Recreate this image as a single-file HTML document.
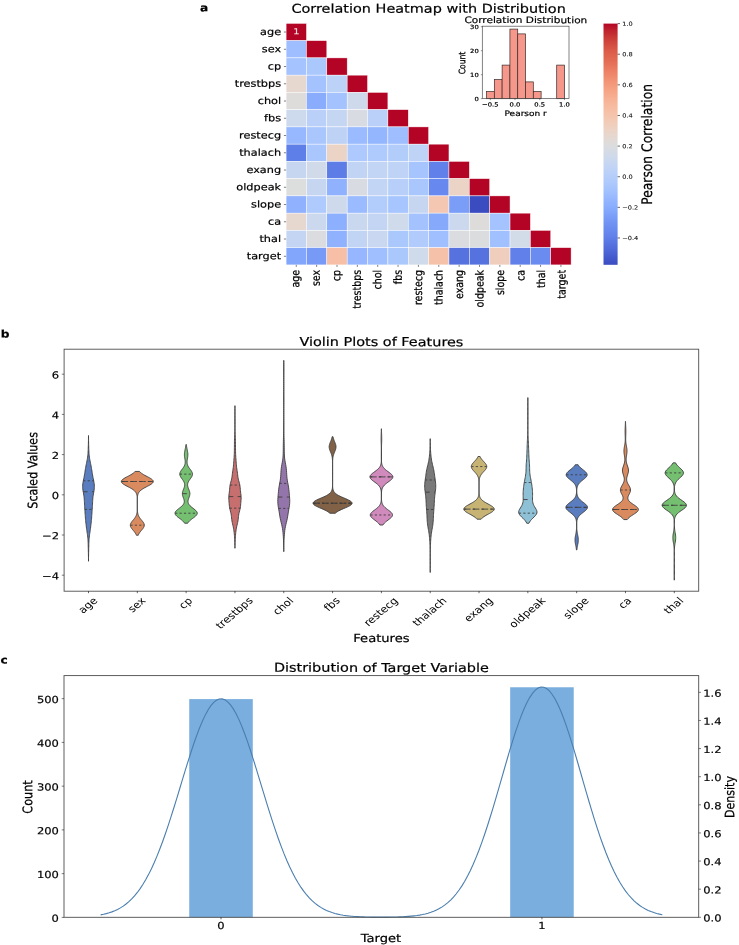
<!DOCTYPE html>
<html><head><meta charset="utf-8"><style>html,body{margin:0;padding:0;background:#fff;}</style></head><body>
<svg width="739" height="945" viewBox="0 0 739 945" style="display:block;font-family:'DejaVu Sans','Liberation Sans',sans-serif">
<rect width="739" height="945" fill="#fff"/>
<text transform="translate(200,11.3) scale(1.18,1) rotate(0.05)" font-size="10.34" text-anchor="start" fill="#000" font-weight="bold" stroke="#000" stroke-width="0.2">a</text>
<text transform="translate(428.6,12.8) scale(1.18,1) rotate(0.05)" font-size="12.24" text-anchor="middle" fill="#000" stroke="#000" stroke-width="0.2">Correlation Heatmap with Distribution</text>
<rect x="286.1" y="23.4" width="20.36" height="17.25" fill="#b40426" stroke="#fff" stroke-width="0.45"/>
<rect x="286.1" y="40.65" width="20.36" height="17.25" fill="#9ebeff" stroke="#fff" stroke-width="0.45"/>
<rect x="306.46" y="40.65" width="20.36" height="17.25" fill="#b40426" stroke="#fff" stroke-width="0.45"/>
<rect x="286.1" y="57.9" width="20.36" height="17.25" fill="#a5c3fe" stroke="#fff" stroke-width="0.45"/>
<rect x="306.46" y="57.9" width="20.36" height="17.25" fill="#abc8fd" stroke="#fff" stroke-width="0.45"/>
<rect x="326.81" y="57.9" width="20.36" height="17.25" fill="#b40426" stroke="#fff" stroke-width="0.45"/>
<rect x="286.1" y="75.15" width="20.36" height="17.25" fill="#e6d7cf" stroke="#fff" stroke-width="0.45"/>
<rect x="306.46" y="75.15" width="20.36" height="17.25" fill="#a3c2fe" stroke="#fff" stroke-width="0.45"/>
<rect x="326.81" y="75.15" width="20.36" height="17.25" fill="#bcd2f7" stroke="#fff" stroke-width="0.45"/>
<rect x="347.17" y="75.15" width="20.36" height="17.25" fill="#b40426" stroke="#fff" stroke-width="0.45"/>
<rect x="286.1" y="92.4" width="20.36" height="17.25" fill="#dedcdb" stroke="#fff" stroke-width="0.45"/>
<rect x="306.46" y="92.4" width="20.36" height="17.25" fill="#89acfd" stroke="#fff" stroke-width="0.45"/>
<rect x="326.81" y="92.4" width="20.36" height="17.25" fill="#a3c2fe" stroke="#fff" stroke-width="0.45"/>
<rect x="347.17" y="92.4" width="20.36" height="17.25" fill="#cedaeb" stroke="#fff" stroke-width="0.45"/>
<rect x="367.53" y="92.4" width="20.36" height="17.25" fill="#b40426" stroke="#fff" stroke-width="0.45"/>
<rect x="286.1" y="109.65" width="20.36" height="17.25" fill="#cdd9ec" stroke="#fff" stroke-width="0.45"/>
<rect x="306.46" y="109.65" width="20.36" height="17.25" fill="#bad0f8" stroke="#fff" stroke-width="0.45"/>
<rect x="326.81" y="109.65" width="20.36" height="17.25" fill="#c5d6f2" stroke="#fff" stroke-width="0.45"/>
<rect x="347.17" y="109.65" width="20.36" height="17.25" fill="#d8dce2" stroke="#fff" stroke-width="0.45"/>
<rect x="367.53" y="109.65" width="20.36" height="17.25" fill="#bad0f8" stroke="#fff" stroke-width="0.45"/>
<rect x="387.89" y="109.65" width="20.36" height="17.25" fill="#b40426" stroke="#fff" stroke-width="0.45"/>
<rect x="286.1" y="126.9" width="20.36" height="17.25" fill="#97b8ff" stroke="#fff" stroke-width="0.45"/>
<rect x="306.46" y="126.9" width="20.36" height="17.25" fill="#a9c6fd" stroke="#fff" stroke-width="0.45"/>
<rect x="326.81" y="126.9" width="20.36" height="17.25" fill="#bed2f6" stroke="#fff" stroke-width="0.45"/>
<rect x="347.17" y="126.9" width="20.36" height="17.25" fill="#9abbff" stroke="#fff" stroke-width="0.45"/>
<rect x="367.53" y="126.9" width="20.36" height="17.25" fill="#94b6ff" stroke="#fff" stroke-width="0.45"/>
<rect x="387.89" y="126.9" width="20.36" height="17.25" fill="#9ebeff" stroke="#fff" stroke-width="0.45"/>
<rect x="408.24" y="126.9" width="20.36" height="17.25" fill="#b40426" stroke="#fff" stroke-width="0.45"/>
<rect x="286.1" y="144.15" width="20.36" height="17.25" fill="#5f7fe8" stroke="#fff" stroke-width="0.45"/>
<rect x="306.46" y="144.15" width="20.36" height="17.25" fill="#aac7fd" stroke="#fff" stroke-width="0.45"/>
<rect x="326.81" y="144.15" width="20.36" height="17.25" fill="#ebd3c6" stroke="#fff" stroke-width="0.45"/>
<rect x="347.17" y="144.15" width="20.36" height="17.25" fill="#adc9fd" stroke="#fff" stroke-width="0.45"/>
<rect x="367.53" y="144.15" width="20.36" height="17.25" fill="#afcafc" stroke="#fff" stroke-width="0.45"/>
<rect x="387.89" y="144.15" width="20.36" height="17.25" fill="#b3cdfb" stroke="#fff" stroke-width="0.45"/>
<rect x="408.24" y="144.15" width="20.36" height="17.25" fill="#bfd3f6" stroke="#fff" stroke-width="0.45"/>
<rect x="428.6" y="144.15" width="20.36" height="17.25" fill="#b40426" stroke="#fff" stroke-width="0.45"/>
<rect x="286.1" y="161.4" width="20.36" height="17.25" fill="#c6d6f1" stroke="#fff" stroke-width="0.45"/>
<rect x="306.46" y="161.4" width="20.36" height="17.25" fill="#d1dae9" stroke="#fff" stroke-width="0.45"/>
<rect x="326.81" y="161.4" width="20.36" height="17.25" fill="#5d7ce6" stroke="#fff" stroke-width="0.45"/>
<rect x="347.17" y="161.4" width="20.36" height="17.25" fill="#c1d4f4" stroke="#fff" stroke-width="0.45"/>
<rect x="367.53" y="161.4" width="20.36" height="17.25" fill="#c3d5f4" stroke="#fff" stroke-width="0.45"/>
<rect x="387.89" y="161.4" width="20.36" height="17.25" fill="#bfd3f6" stroke="#fff" stroke-width="0.45"/>
<rect x="408.24" y="161.4" width="20.36" height="17.25" fill="#a6c4fe" stroke="#fff" stroke-width="0.45"/>
<rect x="428.6" y="161.4" width="20.36" height="17.25" fill="#6180e9" stroke="#fff" stroke-width="0.45"/>
<rect x="448.96" y="161.4" width="20.36" height="17.25" fill="#b40426" stroke="#fff" stroke-width="0.45"/>
<rect x="286.1" y="178.65" width="20.36" height="17.25" fill="#dcdddd" stroke="#fff" stroke-width="0.45"/>
<rect x="306.46" y="178.65" width="20.36" height="17.25" fill="#c6d6f1" stroke="#fff" stroke-width="0.45"/>
<rect x="326.81" y="178.65" width="20.36" height="17.25" fill="#8fb1fe" stroke="#fff" stroke-width="0.45"/>
<rect x="347.17" y="178.65" width="20.36" height="17.25" fill="#d8dce2" stroke="#fff" stroke-width="0.45"/>
<rect x="367.53" y="178.65" width="20.36" height="17.25" fill="#c3d5f4" stroke="#fff" stroke-width="0.45"/>
<rect x="387.89" y="178.65" width="20.36" height="17.25" fill="#b7cff9" stroke="#fff" stroke-width="0.45"/>
<rect x="408.24" y="178.65" width="20.36" height="17.25" fill="#aac7fd" stroke="#fff" stroke-width="0.45"/>
<rect x="428.6" y="178.65" width="20.36" height="17.25" fill="#6788ee" stroke="#fff" stroke-width="0.45"/>
<rect x="448.96" y="178.65" width="20.36" height="17.25" fill="#ebd3c6" stroke="#fff" stroke-width="0.45"/>
<rect x="469.31" y="178.65" width="20.36" height="17.25" fill="#b40426" stroke="#fff" stroke-width="0.45"/>
<rect x="286.1" y="195.9" width="20.36" height="17.25" fill="#8fb1fe" stroke="#fff" stroke-width="0.45"/>
<rect x="306.46" y="195.9" width="20.36" height="17.25" fill="#afcafc" stroke="#fff" stroke-width="0.45"/>
<rect x="326.81" y="195.9" width="20.36" height="17.25" fill="#cedaeb" stroke="#fff" stroke-width="0.45"/>
<rect x="347.17" y="195.9" width="20.36" height="17.25" fill="#9abbff" stroke="#fff" stroke-width="0.45"/>
<rect x="367.53" y="195.9" width="20.36" height="17.25" fill="#b2ccfb" stroke="#fff" stroke-width="0.45"/>
<rect x="387.89" y="195.9" width="20.36" height="17.25" fill="#a7c5fe" stroke="#fff" stroke-width="0.45"/>
<rect x="408.24" y="195.9" width="20.36" height="17.25" fill="#c6d6f1" stroke="#fff" stroke-width="0.45"/>
<rect x="428.6" y="195.9" width="20.36" height="17.25" fill="#f3c7b1" stroke="#fff" stroke-width="0.45"/>
<rect x="448.96" y="195.9" width="20.36" height="17.25" fill="#7a9df8" stroke="#fff" stroke-width="0.45"/>
<rect x="469.31" y="195.9" width="20.36" height="17.25" fill="#3b4cc0" stroke="#fff" stroke-width="0.45"/>
<rect x="489.67" y="195.9" width="20.36" height="17.25" fill="#b40426" stroke="#fff" stroke-width="0.45"/>
<rect x="286.1" y="213.15" width="20.36" height="17.25" fill="#e6d7cf" stroke="#fff" stroke-width="0.45"/>
<rect x="306.46" y="213.15" width="20.36" height="17.25" fill="#cbd8ee" stroke="#fff" stroke-width="0.45"/>
<rect x="326.81" y="213.15" width="20.36" height="17.25" fill="#8db0fe" stroke="#fff" stroke-width="0.45"/>
<rect x="347.17" y="213.15" width="20.36" height="17.25" fill="#cad8ef" stroke="#fff" stroke-width="0.45"/>
<rect x="367.53" y="213.15" width="20.36" height="17.25" fill="#c4d5f3" stroke="#fff" stroke-width="0.45"/>
<rect x="387.89" y="213.15" width="20.36" height="17.25" fill="#cfdaea" stroke="#fff" stroke-width="0.45"/>
<rect x="408.24" y="213.15" width="20.36" height="17.25" fill="#a3c2fe" stroke="#fff" stroke-width="0.45"/>
<rect x="428.6" y="213.15" width="20.36" height="17.25" fill="#86a9fc" stroke="#fff" stroke-width="0.45"/>
<rect x="448.96" y="213.15" width="20.36" height="17.25" fill="#cbd8ee" stroke="#fff" stroke-width="0.45"/>
<rect x="469.31" y="213.15" width="20.36" height="17.25" fill="#dedcdb" stroke="#fff" stroke-width="0.45"/>
<rect x="489.67" y="213.15" width="20.36" height="17.25" fill="#a5c3fe" stroke="#fff" stroke-width="0.45"/>
<rect x="510.03" y="213.15" width="20.36" height="17.25" fill="#b40426" stroke="#fff" stroke-width="0.45"/>
<rect x="286.1" y="230.4" width="20.36" height="17.25" fill="#c4d5f3" stroke="#fff" stroke-width="0.45"/>
<rect x="306.46" y="230.4" width="20.36" height="17.25" fill="#dadce0" stroke="#fff" stroke-width="0.45"/>
<rect x="326.81" y="230.4" width="20.36" height="17.25" fill="#90b2fe" stroke="#fff" stroke-width="0.45"/>
<rect x="347.17" y="230.4" width="20.36" height="17.25" fill="#c1d4f4" stroke="#fff" stroke-width="0.45"/>
<rect x="367.53" y="230.4" width="20.36" height="17.25" fill="#c9d7f0" stroke="#fff" stroke-width="0.45"/>
<rect x="387.89" y="230.4" width="20.36" height="17.25" fill="#abc8fd" stroke="#fff" stroke-width="0.45"/>
<rect x="408.24" y="230.4" width="20.36" height="17.25" fill="#b1cbfc" stroke="#fff" stroke-width="0.45"/>
<rect x="428.6" y="230.4" width="20.36" height="17.25" fill="#9fbfff" stroke="#fff" stroke-width="0.45"/>
<rect x="448.96" y="230.4" width="20.36" height="17.25" fill="#dadce0" stroke="#fff" stroke-width="0.45"/>
<rect x="469.31" y="230.4" width="20.36" height="17.25" fill="#dbdcde" stroke="#fff" stroke-width="0.45"/>
<rect x="489.67" y="230.4" width="20.36" height="17.25" fill="#a1c0ff" stroke="#fff" stroke-width="0.45"/>
<rect x="510.03" y="230.4" width="20.36" height="17.25" fill="#d2dbe8" stroke="#fff" stroke-width="0.45"/>
<rect x="530.39" y="230.4" width="20.36" height="17.25" fill="#b40426" stroke="#fff" stroke-width="0.45"/>
<rect x="286.1" y="247.65" width="20.36" height="17.25" fill="#82a6fb" stroke="#fff" stroke-width="0.45"/>
<rect x="306.46" y="247.65" width="20.36" height="17.25" fill="#779af7" stroke="#fff" stroke-width="0.45"/>
<rect x="326.81" y="247.65" width="20.36" height="17.25" fill="#f6bfa6" stroke="#fff" stroke-width="0.45"/>
<rect x="347.17" y="247.65" width="20.36" height="17.25" fill="#96b7ff" stroke="#fff" stroke-width="0.45"/>
<rect x="367.53" y="247.65" width="20.36" height="17.25" fill="#9fbfff" stroke="#fff" stroke-width="0.45"/>
<rect x="387.89" y="247.65" width="20.36" height="17.25" fill="#abc8fd" stroke="#fff" stroke-width="0.45"/>
<rect x="408.24" y="247.65" width="20.36" height="17.25" fill="#cfdaea" stroke="#fff" stroke-width="0.45"/>
<rect x="428.6" y="247.65" width="20.36" height="17.25" fill="#f5c1a9" stroke="#fff" stroke-width="0.45"/>
<rect x="448.96" y="247.65" width="20.36" height="17.25" fill="#5572df" stroke="#fff" stroke-width="0.45"/>
<rect x="469.31" y="247.65" width="20.36" height="17.25" fill="#5572df" stroke="#fff" stroke-width="0.45"/>
<rect x="489.67" y="247.65" width="20.36" height="17.25" fill="#efcebd" stroke="#fff" stroke-width="0.45"/>
<rect x="510.03" y="247.65" width="20.36" height="17.25" fill="#6180e9" stroke="#fff" stroke-width="0.45"/>
<rect x="530.39" y="247.65" width="20.36" height="17.25" fill="#6a8bef" stroke="#fff" stroke-width="0.45"/>
<rect x="550.74" y="247.65" width="20.36" height="17.25" fill="#b40426" stroke="#fff" stroke-width="0.45"/>
<text transform="translate(296.28,34.23) scale(1.18,1) rotate(0.05)" font-size="8.31" text-anchor="middle" fill="#f6dde1" stroke="#f6dde1" stroke-width="0.15">1</text>
<line x1="283.9" y1="32.02" x2="286.1" y2="32.02" stroke="#000" stroke-width="0.5"/>
<text transform="translate(281.1,34.91) scale(1.18,1) rotate(0.05)" font-size="9.58" text-anchor="end" fill="#000" stroke="#000" stroke-width="0.2">age</text>
<line x1="283.9" y1="49.27" x2="286.1" y2="49.27" stroke="#000" stroke-width="0.5"/>
<text transform="translate(281.1,52.16) scale(1.18,1) rotate(0.05)" font-size="9.58" text-anchor="end" fill="#000" stroke="#000" stroke-width="0.2">sex</text>
<line x1="283.9" y1="66.52" x2="286.1" y2="66.52" stroke="#000" stroke-width="0.5"/>
<text transform="translate(281.1,69.41) scale(1.18,1) rotate(0.05)" font-size="9.58" text-anchor="end" fill="#000" stroke="#000" stroke-width="0.2">cp</text>
<line x1="283.9" y1="83.77" x2="286.1" y2="83.77" stroke="#000" stroke-width="0.5"/>
<text transform="translate(281.1,86.66) scale(1.18,1) rotate(0.05)" font-size="9.58" text-anchor="end" fill="#000" stroke="#000" stroke-width="0.2">trestbps</text>
<line x1="283.9" y1="101.02" x2="286.1" y2="101.02" stroke="#000" stroke-width="0.5"/>
<text transform="translate(281.1,103.91) scale(1.18,1) rotate(0.05)" font-size="9.58" text-anchor="end" fill="#000" stroke="#000" stroke-width="0.2">chol</text>
<line x1="283.9" y1="118.27" x2="286.1" y2="118.27" stroke="#000" stroke-width="0.5"/>
<text transform="translate(281.1,121.16) scale(1.18,1) rotate(0.05)" font-size="9.58" text-anchor="end" fill="#000" stroke="#000" stroke-width="0.2">fbs</text>
<line x1="283.9" y1="135.52" x2="286.1" y2="135.52" stroke="#000" stroke-width="0.5"/>
<text transform="translate(281.1,138.41) scale(1.18,1) rotate(0.05)" font-size="9.58" text-anchor="end" fill="#000" stroke="#000" stroke-width="0.2">restecg</text>
<line x1="283.9" y1="152.77" x2="286.1" y2="152.77" stroke="#000" stroke-width="0.5"/>
<text transform="translate(281.1,155.66) scale(1.18,1) rotate(0.05)" font-size="9.58" text-anchor="end" fill="#000" stroke="#000" stroke-width="0.2">thalach</text>
<line x1="283.9" y1="170.02" x2="286.1" y2="170.02" stroke="#000" stroke-width="0.5"/>
<text transform="translate(281.1,172.91) scale(1.18,1) rotate(0.05)" font-size="9.58" text-anchor="end" fill="#000" stroke="#000" stroke-width="0.2">exang</text>
<line x1="283.9" y1="187.27" x2="286.1" y2="187.27" stroke="#000" stroke-width="0.5"/>
<text transform="translate(281.1,190.16) scale(1.18,1) rotate(0.05)" font-size="9.58" text-anchor="end" fill="#000" stroke="#000" stroke-width="0.2">oldpeak</text>
<line x1="283.9" y1="204.52" x2="286.1" y2="204.52" stroke="#000" stroke-width="0.5"/>
<text transform="translate(281.1,207.41) scale(1.18,1) rotate(0.05)" font-size="9.58" text-anchor="end" fill="#000" stroke="#000" stroke-width="0.2">slope</text>
<line x1="283.9" y1="221.77" x2="286.1" y2="221.77" stroke="#000" stroke-width="0.5"/>
<text transform="translate(281.1,224.66) scale(1.18,1) rotate(0.05)" font-size="9.58" text-anchor="end" fill="#000" stroke="#000" stroke-width="0.2">ca</text>
<line x1="283.9" y1="239.02" x2="286.1" y2="239.02" stroke="#000" stroke-width="0.5"/>
<text transform="translate(281.1,241.91) scale(1.18,1) rotate(0.05)" font-size="9.58" text-anchor="end" fill="#000" stroke="#000" stroke-width="0.2">thal</text>
<line x1="283.9" y1="256.27" x2="286.1" y2="256.27" stroke="#000" stroke-width="0.5"/>
<text transform="translate(281.1,259.16) scale(1.18,1) rotate(0.05)" font-size="9.58" text-anchor="end" fill="#000" stroke="#000" stroke-width="0.2">target</text>
<line x1="296.28" y1="264.9" x2="296.28" y2="266.9" stroke="#000" stroke-width="0.5"/>
<text transform="translate(299.21,269.9) scale(1.18,1) rotate(-89.95)" font-size="9.49" text-anchor="end" fill="#000" stroke="#000" stroke-width="0.2">age</text>
<line x1="316.64" y1="264.9" x2="316.64" y2="266.9" stroke="#000" stroke-width="0.5"/>
<text transform="translate(319.7,269.9) scale(1.18,1) rotate(-89.95)" font-size="9.49" text-anchor="end" fill="#000" stroke="#000" stroke-width="0.2">sex</text>
<line x1="336.99" y1="264.9" x2="336.99" y2="266.9" stroke="#000" stroke-width="0.5"/>
<text transform="translate(340.19,269.9) scale(1.18,1) rotate(-89.95)" font-size="9.49" text-anchor="end" fill="#000" stroke="#000" stroke-width="0.2">cp</text>
<line x1="357.35" y1="264.9" x2="357.35" y2="266.9" stroke="#000" stroke-width="0.5"/>
<text transform="translate(360.67,269.9) scale(1.18,1) rotate(-89.95)" font-size="9.49" text-anchor="end" fill="#000" stroke="#000" stroke-width="0.2">trestbps</text>
<line x1="377.71" y1="264.9" x2="377.71" y2="266.9" stroke="#000" stroke-width="0.5"/>
<text transform="translate(381.16,269.9) scale(1.18,1) rotate(-89.95)" font-size="9.49" text-anchor="end" fill="#000" stroke="#000" stroke-width="0.2">chol</text>
<line x1="398.06" y1="264.9" x2="398.06" y2="266.9" stroke="#000" stroke-width="0.5"/>
<text transform="translate(401.65,269.9) scale(1.18,1) rotate(-89.95)" font-size="9.49" text-anchor="end" fill="#000" stroke="#000" stroke-width="0.2">fbs</text>
<line x1="418.42" y1="264.9" x2="418.42" y2="266.9" stroke="#000" stroke-width="0.5"/>
<text transform="translate(422.14,269.9) scale(1.18,1) rotate(-89.95)" font-size="9.49" text-anchor="end" fill="#000" stroke="#000" stroke-width="0.2">restecg</text>
<line x1="438.78" y1="264.9" x2="438.78" y2="266.9" stroke="#000" stroke-width="0.5"/>
<text transform="translate(442.62,269.9) scale(1.18,1) rotate(-89.95)" font-size="9.49" text-anchor="end" fill="#000" stroke="#000" stroke-width="0.2">thalach</text>
<line x1="459.14" y1="264.9" x2="459.14" y2="266.9" stroke="#000" stroke-width="0.5"/>
<text transform="translate(463.11,269.9) scale(1.18,1) rotate(-89.95)" font-size="9.49" text-anchor="end" fill="#000" stroke="#000" stroke-width="0.2">exang</text>
<line x1="479.49" y1="264.9" x2="479.49" y2="266.9" stroke="#000" stroke-width="0.5"/>
<text transform="translate(483.6,269.9) scale(1.18,1) rotate(-89.95)" font-size="9.49" text-anchor="end" fill="#000" stroke="#000" stroke-width="0.2">oldpeak</text>
<line x1="499.85" y1="264.9" x2="499.85" y2="266.9" stroke="#000" stroke-width="0.5"/>
<text transform="translate(504.08,269.9) scale(1.18,1) rotate(-89.95)" font-size="9.49" text-anchor="end" fill="#000" stroke="#000" stroke-width="0.2">slope</text>
<line x1="520.21" y1="264.9" x2="520.21" y2="266.9" stroke="#000" stroke-width="0.5"/>
<text transform="translate(524.57,269.9) scale(1.18,1) rotate(-89.95)" font-size="9.49" text-anchor="end" fill="#000" stroke="#000" stroke-width="0.2">ca</text>
<line x1="540.56" y1="264.9" x2="540.56" y2="266.9" stroke="#000" stroke-width="0.5"/>
<text transform="translate(545.06,269.9) scale(1.18,1) rotate(-89.95)" font-size="9.49" text-anchor="end" fill="#000" stroke="#000" stroke-width="0.2">thal</text>
<line x1="560.92" y1="264.9" x2="560.92" y2="266.9" stroke="#000" stroke-width="0.5"/>
<text transform="translate(565.55,269.9) scale(1.18,1) rotate(-89.95)" font-size="9.49" text-anchor="end" fill="#000" stroke="#000" stroke-width="0.2">target</text>
<rect x="486.53" y="91.5" width="7.8" height="7.2" fill="#f5978a" stroke="#3a2a28" stroke-width="0.7"/>
<rect x="494.33" y="79.5" width="7.8" height="19.2" fill="#f5978a" stroke="#3a2a28" stroke-width="0.7"/>
<rect x="502.12" y="65.1" width="7.8" height="33.6" fill="#f5978a" stroke="#3a2a28" stroke-width="0.7"/>
<rect x="509.92" y="29.1" width="7.8" height="69.6" fill="#f5978a" stroke="#3a2a28" stroke-width="0.7"/>
<rect x="517.72" y="33.9" width="7.8" height="64.8" fill="#f5978a" stroke="#3a2a28" stroke-width="0.7"/>
<rect x="525.51" y="81.9" width="7.8" height="16.8" fill="#f5978a" stroke="#3a2a28" stroke-width="0.7"/>
<rect x="533.31" y="91.5" width="7.8" height="7.2" fill="#f5978a" stroke="#3a2a28" stroke-width="0.7"/>
<rect x="556.7" y="65.1" width="7.8" height="33.6" fill="#f5978a" stroke="#3a2a28" stroke-width="0.7"/>
<rect x="482.3" y="26.2" width="86.7" height="72.4" fill="none" stroke="#4d4d4d" stroke-width="0.7"/>
<text transform="translate(525.85,23.1) scale(1.18,1) rotate(0.05)" font-size="8.94" text-anchor="middle" fill="#000" stroke="#000" stroke-width="0.2">Correlation Distribution</text>
<line x1="490.25" y1="98.6" x2="490.25" y2="100.1" stroke="#000" stroke-width="0.4"/>
<text transform="translate(490.25,106.5) scale(1.18,1) rotate(0.05)" font-size="5.76" text-anchor="middle" fill="#000" stroke="#000" stroke-width="0.2">−0.5</text>
<line x1="515" y1="98.6" x2="515" y2="100.1" stroke="#000" stroke-width="0.4"/>
<text transform="translate(515,106.5) scale(1.18,1) rotate(0.05)" font-size="5.76" text-anchor="middle" fill="#000" stroke="#000" stroke-width="0.2">0.0</text>
<line x1="539.75" y1="98.6" x2="539.75" y2="100.1" stroke="#000" stroke-width="0.4"/>
<text transform="translate(539.75,106.5) scale(1.18,1) rotate(0.05)" font-size="5.76" text-anchor="middle" fill="#000" stroke="#000" stroke-width="0.2">0.5</text>
<line x1="564.5" y1="98.6" x2="564.5" y2="100.1" stroke="#000" stroke-width="0.4"/>
<text transform="translate(564.5,106.5) scale(1.18,1) rotate(0.05)" font-size="5.76" text-anchor="middle" fill="#000" stroke="#000" stroke-width="0.2">1.0</text>
<line x1="480.8" y1="98.7" x2="482.3" y2="98.7" stroke="#000" stroke-width="0.4"/>
<text transform="translate(478.7,100.9) scale(1.18,1) rotate(0.05)" font-size="5.76" text-anchor="end" fill="#000" stroke="#000" stroke-width="0.2">0</text>
<line x1="480.8" y1="74.7" x2="482.3" y2="74.7" stroke="#000" stroke-width="0.4"/>
<text transform="translate(478.7,76.9) scale(1.18,1) rotate(0.05)" font-size="5.76" text-anchor="end" fill="#000" stroke="#000" stroke-width="0.2">10</text>
<line x1="480.8" y1="50.7" x2="482.3" y2="50.7" stroke="#000" stroke-width="0.4"/>
<text transform="translate(478.7,52.9) scale(1.18,1) rotate(0.05)" font-size="5.76" text-anchor="end" fill="#000" stroke="#000" stroke-width="0.2">20</text>
<line x1="480.8" y1="26.7" x2="482.3" y2="26.7" stroke="#000" stroke-width="0.4"/>
<text transform="translate(478.7,28.9) scale(1.18,1) rotate(0.05)" font-size="5.76" text-anchor="end" fill="#000" stroke="#000" stroke-width="0.2">30</text>
<text transform="translate(525.65,116) scale(1.18,1) rotate(0.05)" font-size="7.63" text-anchor="middle" fill="#000" stroke="#000" stroke-width="0.2">Pearson r</text>
<text transform="translate(465.3,63) scale(1.18,1) rotate(-89.95)" font-size="7.63" text-anchor="middle" fill="#000" stroke="#000" stroke-width="0.2">Count</text>
<defs><linearGradient id="cb" x1="0" y1="1" x2="0" y2="0">
<stop offset="0" stop-color="#3b4cc0"/>
<stop offset="0.03" stop-color="#445acc"/>
<stop offset="0.06" stop-color="#4e68d8"/>
<stop offset="0.09" stop-color="#5875e1"/>
<stop offset="0.12" stop-color="#6282ea"/>
<stop offset="0.16" stop-color="#6c8ff1"/>
<stop offset="0.19" stop-color="#779af7"/>
<stop offset="0.22" stop-color="#82a6fb"/>
<stop offset="0.25" stop-color="#8db0fe"/>
<stop offset="0.28" stop-color="#98b9ff"/>
<stop offset="0.31" stop-color="#a3c2fe"/>
<stop offset="0.34" stop-color="#aec9fc"/>
<stop offset="0.38" stop-color="#b9d0f9"/>
<stop offset="0.41" stop-color="#c3d5f4"/>
<stop offset="0.44" stop-color="#ccd9ed"/>
<stop offset="0.47" stop-color="#d5dbe5"/>
<stop offset="0.5" stop-color="#dddcdc"/>
<stop offset="0.53" stop-color="#e5d8d1"/>
<stop offset="0.56" stop-color="#ecd3c5"/>
<stop offset="0.59" stop-color="#f1ccb8"/>
<stop offset="0.62" stop-color="#f5c4ac"/>
<stop offset="0.66" stop-color="#f7ba9f"/>
<stop offset="0.69" stop-color="#f7b093"/>
<stop offset="0.72" stop-color="#f6a586"/>
<stop offset="0.75" stop-color="#f4987a"/>
<stop offset="0.78" stop-color="#f08b6e"/>
<stop offset="0.81" stop-color="#eb7d62"/>
<stop offset="0.84" stop-color="#e46e56"/>
<stop offset="0.88" stop-color="#dd5f4b"/>
<stop offset="0.91" stop-color="#d44e41"/>
<stop offset="0.94" stop-color="#ca3b37"/>
<stop offset="0.97" stop-color="#be242e"/>
<stop offset="1" stop-color="#b40426"/>
</linearGradient></defs>
<rect x="603.5" y="23.6" width="14.1" height="241.2" fill="url(#cb)"/>
<line x1="617.6" y1="237.97" x2="620" y2="237.97" stroke="#000" stroke-width="0.6"/>
<text transform="translate(622.2,240.07) scale(1.18,1) rotate(0.05)" font-size="5.59" text-anchor="start" fill="#111" stroke="#111" stroke-width="0.1">−0.4</text>
<line x1="617.6" y1="207.35" x2="620" y2="207.35" stroke="#000" stroke-width="0.6"/>
<text transform="translate(622.2,209.45) scale(1.18,1) rotate(0.05)" font-size="5.59" text-anchor="start" fill="#111" stroke="#111" stroke-width="0.1">−0.2</text>
<line x1="617.6" y1="176.72" x2="620" y2="176.72" stroke="#000" stroke-width="0.6"/>
<text transform="translate(622.2,178.82) scale(1.18,1) rotate(0.05)" font-size="5.59" text-anchor="start" fill="#111" stroke="#111" stroke-width="0.1">0.0</text>
<line x1="617.6" y1="146.1" x2="620" y2="146.1" stroke="#000" stroke-width="0.6"/>
<text transform="translate(622.2,148.2) scale(1.18,1) rotate(0.05)" font-size="5.59" text-anchor="start" fill="#111" stroke="#111" stroke-width="0.1">0.2</text>
<line x1="617.6" y1="115.47" x2="620" y2="115.47" stroke="#000" stroke-width="0.6"/>
<text transform="translate(622.2,117.57) scale(1.18,1) rotate(0.05)" font-size="5.59" text-anchor="start" fill="#111" stroke="#111" stroke-width="0.1">0.4</text>
<line x1="617.6" y1="84.85" x2="620" y2="84.85" stroke="#000" stroke-width="0.6"/>
<text transform="translate(622.2,86.95) scale(1.18,1) rotate(0.05)" font-size="5.59" text-anchor="start" fill="#111" stroke="#111" stroke-width="0.1">0.6</text>
<line x1="617.6" y1="54.22" x2="620" y2="54.22" stroke="#000" stroke-width="0.6"/>
<text transform="translate(622.2,56.32) scale(1.18,1) rotate(0.05)" font-size="5.59" text-anchor="start" fill="#111" stroke="#111" stroke-width="0.1">0.8</text>
<line x1="617.6" y1="23.6" x2="620" y2="23.6" stroke="#000" stroke-width="0.6"/>
<text transform="translate(622.2,25.7) scale(1.18,1) rotate(0.05)" font-size="5.59" text-anchor="start" fill="#111" stroke="#111" stroke-width="0.1">1.0</text>
<text transform="translate(652,144.4) scale(1.18,1) rotate(-89.95)" font-size="12.33" text-anchor="middle" fill="#000" stroke="#000" stroke-width="0.2">Pearson Correlation</text>
<text transform="translate(0.75,337.4) scale(1.18,1) rotate(0.05)" font-size="10.34" text-anchor="start" fill="#000" font-weight="bold" stroke="#000" stroke-width="0.2">b</text>
<text transform="translate(381.4,346.1) scale(1.18,1) rotate(0.05)" font-size="12.24" text-anchor="middle" fill="#000" stroke="#000" stroke-width="0.2">Violin Plots of Features</text>
<polygon points="88.5,561.26 88.49,559.99 88.49,558.72 88.47,557.45 88.46,556.18 88.43,554.91 88.41,553.64 88.37,552.37 88.34,551.1 88.31,549.83 88.27,548.56 88.24,547.29 88.21,546.02 88.18,544.75 88.15,543.48 88.11,542.21 88.05,540.94 87.97,539.67 87.87,538.4 87.75,537.13 87.59,535.86 87.42,534.59 87.24,533.32 87.05,532.05 86.86,530.78 86.68,529.51 86.51,528.24 86.35,526.97 86.19,525.7 86.04,524.43 85.9,523.16 85.76,521.89 85.63,520.62 85.51,519.35 85.41,518.08 85.32,516.81 85.23,515.54 85.15,514.27 85.07,513 84.98,511.73 84.9,510.46 84.81,509.19 84.73,507.92 84.65,506.65 84.57,505.38 84.51,504.11 84.45,502.84 84.39,501.57 84.32,500.3 84.23,499.03 84.11,497.76 83.96,496.49 83.79,495.22 83.58,493.95 83.36,492.68 83.14,491.41 82.93,490.14 82.78,488.87 82.68,487.6 82.65,486.33 82.69,485.06 82.81,483.79 82.99,482.52 83.22,481.25 83.47,479.98 83.73,478.71 83.99,477.44 84.23,476.17 84.46,474.9 84.67,473.63 84.87,472.36 85.07,471.09 85.27,469.82 85.48,468.55 85.7,467.28 85.94,466.01 86.18,464.74 86.44,463.47 86.7,462.2 86.96,460.93 87.2,459.66 87.42,458.39 87.62,457.12 87.78,455.85 87.9,454.57 88,453.3 88.08,452.03 88.14,450.76 88.19,449.49 88.23,448.22 88.28,446.95 88.32,445.68 88.36,444.41 88.4,443.14 88.43,441.87 88.45,440.6 88.47,439.33 88.48,438.06 88.49,436.79 88.5,435.52 88.52,435.52 88.52,436.79 88.53,438.06 88.55,439.33 88.56,440.6 88.59,441.87 88.62,443.14 88.66,444.41 88.7,445.68 88.74,446.95 88.78,448.22 88.83,449.49 88.88,450.76 88.94,452.03 89.01,453.3 89.11,454.57 89.24,455.85 89.4,457.12 89.59,458.39 89.81,459.66 90.06,460.93 90.32,462.2 90.58,463.47 90.83,464.74 91.08,466.01 91.31,467.28 91.53,468.55 91.74,469.82 91.95,471.09 92.15,472.36 92.35,473.63 92.56,474.9 92.78,476.17 93.03,477.44 93.28,478.71 93.54,479.98 93.8,481.25 94.02,482.52 94.2,483.79 94.32,485.06 94.37,486.33 94.34,487.6 94.24,488.87 94.08,490.14 93.88,491.41 93.66,492.68 93.44,493.95 93.23,495.22 93.05,496.49 92.9,497.76 92.79,499.03 92.7,500.3 92.63,501.57 92.57,502.84 92.51,504.11 92.44,505.38 92.37,506.65 92.29,507.92 92.2,509.19 92.12,510.46 92.03,511.73 91.95,513 91.87,514.27 91.78,515.54 91.7,516.81 91.61,518.08 91.5,519.35 91.39,520.62 91.26,521.89 91.12,523.16 90.98,524.43 90.82,525.7 90.67,526.97 90.51,528.24 90.33,529.51 90.15,530.78 89.97,532.05 89.78,533.32 89.59,534.59 89.42,535.86 89.27,537.13 89.14,538.4 89.04,539.67 88.97,540.94 88.91,542.21 88.87,543.48 88.83,544.75 88.8,546.02 88.77,547.29 88.74,548.56 88.71,549.83 88.67,551.1 88.64,552.37 88.61,553.64 88.58,554.91 88.56,556.18 88.54,557.45 88.53,558.72 88.52,559.99 88.52,561.26" fill="#597dbf" stroke="#3d3d3d" stroke-width="0.9" stroke-linejoin="round"/>
<line x1="84.85" y1="509.39" x2="92.17" y2="509.39" stroke="#3d3d3d" stroke-width="0.9" stroke-dasharray="2.2,2.2"/>
<line x1="83.19" y1="491.79" x2="93.83" y2="491.79" stroke="#3d3d3d" stroke-width="0.9" stroke-dasharray="4.4,4.4"/>
<line x1="83.27" y1="480.79" x2="93.74" y2="480.79" stroke="#3d3d3d" stroke-width="0.9" stroke-dasharray="2.2,2.2"/>
<polygon points="136.38,535.24 136.11,534.59 135.8,533.95 135.43,533.31 135.01,532.66 134.55,532.02 134.05,531.37 133.52,530.73 132.98,530.08 132.44,529.44 131.92,528.8 131.45,528.15 131.04,527.51 130.71,526.86 130.48,526.22 130.36,525.57 130.35,524.93 130.45,524.28 130.66,523.64 130.97,523 131.36,522.35 131.82,521.71 132.33,521.06 132.87,520.42 133.41,519.77 133.94,519.13 134.45,518.49 134.92,517.84 135.35,517.2 135.72,516.55 136.05,515.91 136.33,515.26 136.56,514.62 136.74,513.98 136.89,513.33 137.01,512.69 137.09,512.04 137.16,511.4 137.21,510.75 137.25,510.11 137.27,509.47 137.29,508.82 137.3,508.18 137.31,507.53 137.31,506.89 137.32,506.24 137.32,505.6 137.32,504.96 137.32,504.31 137.32,503.67 137.32,503.02 137.32,502.38 137.32,501.73 137.31,501.09 137.31,500.45 137.3,499.8 137.29,499.16 137.27,498.51 137.24,497.87 137.2,497.22 137.15,496.58 137.06,495.93 136.95,495.29 136.8,494.65 136.6,494 136.33,493.36 135.99,492.71 135.57,492.07 135.05,491.42 134.42,490.78 133.67,490.14 132.81,489.49 131.83,488.85 130.75,488.2 129.59,487.56 128.38,486.91 127.14,486.27 125.92,485.63 124.76,484.98 123.7,484.34 122.8,483.69 122.09,483.05 121.61,482.4 121.38,481.76 121.4,481.12 121.69,480.47 122.22,479.83 122.97,479.18 123.91,478.54 124.99,477.89 126.16,477.25 127.39,476.61 128.63,475.96 129.84,475.32 130.98,474.67 132.04,474.03 132.99,473.38 133.83,472.74 134.55,472.1 135.16,471.45 139.48,471.45 140.09,472.1 140.81,472.74 141.65,473.38 142.61,474.03 143.66,474.67 144.81,475.32 146.02,475.96 147.25,476.61 148.48,477.25 149.66,477.89 150.74,478.54 151.67,479.18 152.42,479.83 152.96,480.47 153.24,481.12 153.27,481.76 153.03,482.4 152.55,483.05 151.84,483.69 150.94,484.34 149.89,484.98 148.73,485.63 147.51,486.27 146.27,486.91 145.05,487.56 143.89,488.2 142.81,488.85 141.84,489.49 140.98,490.14 140.23,490.78 139.6,491.42 139.08,492.07 138.65,492.71 138.31,493.36 138.05,494 137.85,494.65 137.69,495.29 137.58,495.93 137.5,496.58 137.44,497.22 137.4,497.87 137.38,498.51 137.36,499.16 137.34,499.8 137.34,500.45 137.33,501.09 137.33,501.73 137.33,502.38 137.33,503.02 137.32,503.67 137.32,504.31 137.33,504.96 137.33,505.6 137.33,506.24 137.33,506.89 137.34,507.53 137.35,508.18 137.36,508.82 137.38,509.47 137.4,510.11 137.44,510.75 137.49,511.4 137.55,512.04 137.64,512.69 137.76,513.33 137.9,513.98 138.09,514.62 138.32,515.26 138.6,515.91 138.92,516.55 139.3,517.2 139.73,517.84 140.2,518.49 140.7,519.13 141.24,519.77 141.78,520.42 142.31,521.06 142.82,521.71 143.28,522.35 143.68,523 143.99,523.64 144.2,524.28 144.3,524.93 144.29,525.57 144.16,526.22 143.93,526.86 143.6,527.51 143.19,528.15 142.72,528.8 142.21,529.44 141.67,530.08 141.13,530.73 140.6,531.37 140.1,532.02 139.63,532.66 139.22,533.31 138.85,533.95 138.53,534.59 138.27,535.24" fill="#d98b5f" stroke="#3d3d3d" stroke-width="0.9" stroke-linejoin="round"/>
<line x1="130.42" y1="525.19" x2="144.23" y2="525.19" stroke="#3d3d3d" stroke-width="0.9" stroke-dasharray="2.2,2.2"/>
<line x1="121.54" y1="481.5" x2="153.11" y2="481.5" stroke="#3d3d3d" stroke-width="0.9" stroke-dasharray="4.4,4.4"/>
<line x1="121.54" y1="481.5" x2="153.11" y2="481.5" stroke="#3d3d3d" stroke-width="0.9" stroke-dasharray="2.2,2.2"/>
<polygon points="184.63,523.26 184.1,522.46 183.44,521.67 182.66,520.87 181.77,520.08 180.78,519.28 179.73,518.49 178.67,517.7 177.64,516.9 176.71,516.11 175.94,515.31 175.38,514.52 175.07,513.72 175.02,512.93 175.26,512.13 175.75,511.34 176.46,510.54 177.34,509.75 178.33,508.95 179.36,508.16 180.39,507.36 181.35,506.57 182.21,505.77 182.93,504.98 183.5,504.18 183.91,503.39 184.17,502.59 184.28,501.8 184.26,501 184.14,500.21 183.93,499.41 183.67,498.62 183.37,497.82 183.08,497.03 182.81,496.23 182.6,495.44 182.45,494.64 182.39,493.85 182.42,493.05 182.53,492.26 182.73,491.46 182.98,490.67 183.28,489.87 183.6,489.08 183.91,488.28 184.2,487.49 184.43,486.69 184.6,485.9 184.67,485.1 184.66,484.31 184.53,483.51 184.31,482.72 183.97,481.92 183.55,481.13 183.05,480.33 182.49,479.54 181.91,478.74 181.33,477.95 180.81,477.15 180.36,476.36 180.02,475.56 179.82,474.77 179.78,473.97 179.89,473.18 180.15,472.38 180.54,471.59 181.04,470.79 181.6,470 182.19,469.2 182.78,468.41 183.34,467.61 183.85,466.82 184.28,466.02 184.63,465.23 184.9,464.43 185.08,463.64 185.18,462.84 185.21,462.05 185.18,461.25 185.11,460.46 185,459.66 184.87,458.87 184.74,458.07 184.62,457.28 184.52,456.49 184.45,455.69 184.41,454.9 184.42,454.1 184.47,453.31 184.56,452.51 184.68,451.72 184.82,450.92 184.98,450.13 185.15,449.33 185.31,448.54 185.46,447.74 185.6,446.95 185.72,446.15 185.82,445.36 185.91,444.56 186.37,444.56 186.45,445.36 186.56,446.15 186.68,446.95 186.82,447.74 186.97,448.54 187.13,449.33 187.3,450.13 187.45,450.92 187.6,451.72 187.72,452.51 187.81,453.31 187.86,454.1 187.86,454.9 187.83,455.69 187.76,456.49 187.66,457.28 187.54,458.07 187.41,458.87 187.28,459.66 187.17,460.46 187.1,461.25 187.07,462.05 187.1,462.84 187.2,463.64 187.38,464.43 187.64,465.23 187.99,466.02 188.43,466.82 188.93,467.61 189.49,468.41 190.09,469.2 190.68,470 191.24,470.79 191.73,471.59 192.12,472.38 192.38,473.18 192.5,473.97 192.45,474.77 192.26,475.56 191.92,476.36 191.47,477.15 190.94,477.95 190.37,478.74 189.79,479.54 189.23,480.33 188.73,481.13 188.3,481.92 187.97,482.72 187.74,483.51 187.62,484.31 187.6,485.1 187.68,485.9 187.85,486.69 188.08,487.49 188.36,488.28 188.68,489.08 188.99,489.87 189.29,490.67 189.55,491.46 189.74,492.26 189.86,493.05 189.89,493.85 189.82,494.64 189.68,495.44 189.46,496.23 189.2,497.03 188.9,497.82 188.61,498.62 188.35,499.41 188.14,500.21 188.02,501 188,501.8 188.11,502.59 188.37,503.39 188.78,504.18 189.35,504.98 190.07,505.77 190.93,506.57 191.89,507.36 192.91,508.16 193.95,508.95 194.94,509.75 195.82,510.54 196.53,511.34 197.02,512.13 197.25,512.93 197.21,513.72 196.9,514.52 196.33,515.31 195.56,516.11 194.63,516.9 193.61,517.7 192.54,518.49 191.5,519.28 190.51,520.08 189.61,520.87 188.84,521.67 188.18,522.46 187.64,523.26" fill="#75bf71" stroke="#3d3d3d" stroke-width="0.9" stroke-linejoin="round"/>
<line x1="175.14" y1="513.21" x2="197.14" y2="513.21" stroke="#3d3d3d" stroke-width="0.9" stroke-dasharray="2.2,2.2"/>
<line x1="182.43" y1="493.68" x2="189.85" y2="493.68" stroke="#3d3d3d" stroke-width="0.9" stroke-dasharray="4.4,4.4"/>
<line x1="179.84" y1="474.14" x2="192.43" y2="474.14" stroke="#3d3d3d" stroke-width="0.9" stroke-dasharray="2.2,2.2"/>
<polygon points="234.93,548.27 234.91,546.83 234.89,545.39 234.85,543.95 234.81,542.51 234.75,541.07 234.69,539.63 234.61,538.19 234.51,536.75 234.4,535.31 234.27,533.87 234.12,532.43 233.94,530.99 233.74,529.55 233.49,528.11 233.2,526.67 232.87,525.22 232.53,523.78 232.21,522.34 231.94,520.9 231.73,519.46 231.58,518.02 231.44,516.58 231.26,515.14 231.01,513.7 230.68,512.26 230.3,510.82 229.94,509.38 229.64,507.94 229.42,506.5 229.27,505.06 229.15,503.62 229.03,502.18 228.91,500.74 228.8,499.29 228.76,497.85 228.8,496.41 228.94,494.97 229.13,493.53 229.32,492.09 229.48,490.65 229.6,489.21 229.72,487.77 229.87,486.33 230.11,484.89 230.44,483.45 230.83,482.01 231.23,480.57 231.58,479.13 231.87,477.69 232.08,476.25 232.25,474.8 232.41,473.36 232.6,471.92 232.82,470.48 233.04,469.04 233.25,467.6 233.42,466.16 233.55,464.72 233.65,463.28 233.75,461.84 233.85,460.4 233.96,458.96 234.08,457.52 234.18,456.08 234.26,454.64 234.32,453.2 234.35,451.76 234.37,450.31 234.38,448.87 234.4,447.43 234.41,445.99 234.42,444.55 234.44,443.11 234.45,441.67 234.48,440.23 234.53,438.79 234.58,437.35 234.65,435.91 234.71,434.47 234.77,433.03 234.82,431.59 234.85,430.15 234.86,428.71 234.87,427.27 234.87,425.82 234.87,424.38 234.87,422.94 234.87,421.5 234.87,420.06 234.87,418.62 234.87,417.18 234.87,415.74 234.88,414.3 234.89,412.86 234.91,411.42 234.92,409.98 234.93,408.54 234.94,407.1 234.94,405.66 234.96,405.66 234.97,407.1 234.98,408.54 234.99,409.98 235,411.42 235.01,412.86 235.03,414.3 235.03,415.74 235.04,417.18 235.04,418.62 235.04,420.06 235.04,421.5 235.04,422.94 235.04,424.38 235.04,425.82 235.04,427.27 235.04,428.71 235.06,430.15 235.09,431.59 235.14,433.03 235.19,434.47 235.26,435.91 235.33,437.35 235.38,438.79 235.42,440.23 235.45,441.67 235.47,443.11 235.49,444.55 235.5,445.99 235.51,447.43 235.52,448.87 235.54,450.31 235.56,451.76 235.59,453.2 235.65,454.64 235.73,456.08 235.83,457.52 235.94,458.96 236.05,460.4 236.16,461.84 236.25,463.28 236.36,464.72 236.49,466.16 236.66,467.6 236.87,469.04 237.09,470.48 237.31,471.92 237.49,473.36 237.66,474.8 237.83,476.25 238.04,477.69 238.32,479.13 238.68,480.57 239.08,482.01 239.47,483.45 239.8,484.89 240.04,486.33 240.19,487.77 240.3,489.21 240.43,490.65 240.59,492.09 240.78,493.53 240.97,494.97 241.1,496.41 241.15,497.85 241.1,499.29 241,500.74 240.87,502.18 240.76,503.62 240.64,505.06 240.49,506.5 240.27,507.94 239.97,509.38 239.6,510.82 239.23,512.26 238.9,513.7 238.65,515.14 238.47,516.58 238.33,518.02 238.18,519.46 237.97,520.9 237.7,522.34 237.38,523.78 237.04,525.22 236.71,526.67 236.42,528.11 236.17,529.55 235.96,530.99 235.79,532.43 235.64,533.87 235.51,535.31 235.4,536.75 235.3,538.19 235.22,539.63 235.15,541.07 235.1,542.51 235.05,543.95 235.02,545.39 234.99,546.83 234.98,548.27" fill="#c76e6e" stroke="#3d3d3d" stroke-width="0.9" stroke-linejoin="round"/>
<line x1="229.69" y1="508.17" x2="240.21" y2="508.17" stroke="#3d3d3d" stroke-width="0.9" stroke-dasharray="2.2,2.2"/>
<line x1="228.87" y1="496.61" x2="241.04" y2="496.61" stroke="#3d3d3d" stroke-width="0.9" stroke-dasharray="4.4,4.4"/>
<line x1="230.16" y1="485.05" x2="239.75" y2="485.05" stroke="#3d3d3d" stroke-width="0.9" stroke-dasharray="2.2,2.2"/>
<polygon points="283.76,551.68 283.75,549.74 283.73,547.81 283.7,545.88 283.65,543.95 283.59,542.01 283.51,540.08 283.41,538.15 283.29,536.21 283.14,534.28 282.96,532.35 282.74,530.42 282.46,528.48 282.1,526.55 281.68,524.62 281.21,522.68 280.74,520.75 280.31,518.82 279.95,516.89 279.64,514.95 279.35,513.02 279.03,511.09 278.68,509.16 278.34,507.22 278.06,505.29 277.87,503.36 277.79,501.42 277.82,499.49 277.94,497.56 278.09,495.63 278.26,493.69 278.44,491.76 278.64,489.83 278.89,487.9 279.19,485.96 279.55,484.03 279.91,482.1 280.25,480.16 280.51,478.23 280.69,476.3 280.82,474.37 280.92,472.43 281.05,470.5 281.23,468.57 281.5,466.64 281.83,464.7 282.19,462.77 282.54,460.84 282.83,458.9 283.03,456.97 283.15,455.04 283.22,453.11 283.25,451.17 283.27,449.24 283.29,447.31 283.31,445.37 283.34,443.44 283.38,441.51 283.42,439.58 283.48,437.64 283.53,435.71 283.59,433.78 283.64,431.85 283.68,429.91 283.71,427.98 283.73,426.05 283.74,424.11 283.74,422.18 283.75,420.25 283.75,418.32 283.75,416.38 283.76,414.45 283.76,412.52 283.76,410.59 283.76,408.65 283.76,406.72 283.75,404.79 283.75,402.85 283.75,400.92 283.75,398.99 283.75,397.06 283.76,395.12 283.76,393.19 283.77,391.26 283.77,389.32 283.77,387.39 283.77,385.46 283.77,383.53 283.77,381.59 283.77,379.66 283.76,377.73 283.76,375.8 283.75,373.86 283.75,371.93 283.75,370 283.75,368.06 283.75,366.13 283.76,364.2 283.76,362.27 283.77,360.33 283.77,360.33 283.78,362.27 283.78,364.2 283.78,366.13 283.79,368.06 283.79,370 283.79,371.93 283.79,373.86 283.78,375.8 283.78,377.73 283.77,379.66 283.77,381.59 283.77,383.53 283.77,385.46 283.77,387.39 283.77,389.32 283.77,391.26 283.78,393.19 283.78,395.12 283.79,397.06 283.79,398.99 283.79,400.92 283.79,402.85 283.79,404.79 283.78,406.72 283.78,408.65 283.78,410.59 283.78,412.52 283.78,414.45 283.78,416.38 283.79,418.32 283.79,420.25 283.8,422.18 283.8,424.11 283.81,426.05 283.83,427.98 283.86,429.91 283.9,431.85 283.95,433.78 284,435.71 284.06,437.64 284.11,439.58 284.16,441.51 284.2,443.44 284.23,445.37 284.25,447.31 284.27,449.24 284.28,451.17 284.32,453.11 284.38,455.04 284.51,456.97 284.71,458.9 285,460.84 285.34,462.77 285.71,464.7 286.04,466.64 286.31,468.57 286.49,470.5 286.62,472.43 286.72,474.37 286.85,476.3 287.03,478.23 287.29,480.16 287.62,482.1 287.99,484.03 288.35,485.96 288.65,487.9 288.9,489.83 289.1,491.76 289.28,493.69 289.45,495.63 289.6,497.56 289.71,499.49 289.75,501.42 289.67,503.36 289.48,505.29 289.19,507.22 288.85,509.16 288.51,511.09 288.19,513.02 287.9,514.95 287.58,516.89 287.22,518.82 286.8,520.75 286.33,522.68 285.86,524.62 285.43,526.55 285.08,528.48 284.8,530.42 284.58,532.35 284.4,534.28 284.25,536.21 284.13,538.15 284.03,540.08 283.95,542.01 283.88,543.95 283.84,545.88 283.81,547.81 283.79,549.74 283.78,551.68" fill="#9475ab" stroke="#3d3d3d" stroke-width="0.9" stroke-linejoin="round"/>
<line x1="278.73" y1="508.38" x2="288.8" y2="508.38" stroke="#3d3d3d" stroke-width="0.9" stroke-dasharray="2.2,2.2"/>
<line x1="277.99" y1="497.05" x2="289.54" y2="497.05" stroke="#3d3d3d" stroke-width="0.9" stroke-dasharray="4.4,4.4"/>
<line x1="279.59" y1="483.38" x2="287.95" y2="483.38" stroke="#3d3d3d" stroke-width="0.9" stroke-dasharray="2.2,2.2"/>
<polygon points="329.94,513.27 329.03,512.5 327.92,511.73 326.61,510.95 325.1,510.18 323.43,509.41 321.66,508.64 319.84,507.86 318.07,507.09 316.44,506.32 315.04,505.54 313.97,504.77 313.29,504 313.06,503.23 313.28,502.45 313.95,501.68 315.02,500.91 316.41,500.13 318.04,499.36 319.81,498.59 321.63,497.82 323.41,497.04 325.08,496.27 326.59,495.5 327.9,494.72 329.02,493.95 329.93,493.18 330.65,492.41 331.21,491.63 331.63,490.86 331.94,490.09 332.16,489.31 332.31,488.54 332.41,487.77 332.48,487 332.52,486.22 332.55,485.45 332.56,484.68 332.57,483.9 332.58,483.13 332.58,482.36 332.58,481.59 332.58,480.81 332.58,480.04 332.58,479.27 332.58,478.49 332.58,477.72 332.58,476.95 332.58,476.18 332.58,475.4 332.58,474.63 332.58,473.86 332.58,473.08 332.58,472.31 332.58,471.54 332.58,470.77 332.58,469.99 332.58,469.22 332.58,468.45 332.58,467.68 332.58,466.9 332.58,466.13 332.58,465.36 332.58,464.58 332.57,463.81 332.57,463.04 332.55,462.27 332.54,461.49 332.51,460.72 332.47,459.95 332.42,459.17 332.34,458.4 332.25,457.63 332.12,456.86 331.96,456.08 331.76,455.31 331.53,454.54 331.27,453.76 330.97,452.99 330.66,452.22 330.34,451.45 330.03,450.67 329.75,449.9 329.5,449.13 329.32,448.35 329.2,447.58 329.16,446.81 329.2,446.04 329.32,445.26 329.51,444.49 329.75,443.72 330.04,442.94 330.35,442.17 330.67,441.4 330.98,440.63 331.27,439.85 331.54,439.08 331.77,438.31 331.96,437.53 332.12,436.76 333.05,436.76 333.21,437.53 333.4,438.31 333.63,439.08 333.9,439.85 334.19,440.63 334.5,441.4 334.82,442.17 335.13,442.94 335.42,443.72 335.66,444.49 335.85,445.26 335.97,446.04 336.01,446.81 335.97,447.58 335.85,448.35 335.67,449.13 335.42,449.9 335.14,450.67 334.83,451.45 334.51,452.22 334.19,452.99 333.9,453.76 333.64,454.54 333.41,455.31 333.21,456.08 333.05,456.86 332.92,457.63 332.83,458.4 332.75,459.17 332.7,459.95 332.66,460.72 332.63,461.49 332.62,462.27 332.6,463.04 332.6,463.81 332.59,464.58 332.59,465.36 332.59,466.13 332.59,466.9 332.59,467.68 332.58,468.45 332.58,469.22 332.58,469.99 332.58,470.77 332.58,471.54 332.58,472.31 332.58,473.08 332.58,473.86 332.58,474.63 332.58,475.4 332.58,476.18 332.58,476.95 332.58,477.72 332.58,478.49 332.58,479.27 332.59,480.04 332.59,480.81 332.59,481.59 332.59,482.36 332.59,483.13 332.6,483.9 332.61,484.68 332.62,485.45 332.65,486.22 332.69,487 332.76,487.77 332.86,488.54 333.01,489.31 333.23,490.09 333.53,490.86 333.95,491.63 334.51,492.41 335.24,493.18 336.15,493.95 337.27,494.72 338.58,495.5 340.09,496.27 341.76,497.04 343.54,497.82 345.36,498.59 347.13,499.36 348.76,500.13 350.15,500.91 351.22,501.68 351.88,502.45 352.11,503.23 351.88,504 351.2,504.77 350.13,505.54 348.73,506.32 347.1,507.09 345.33,507.86 343.51,508.64 341.73,509.41 340.07,510.18 338.56,510.95 337.25,511.73 336.14,512.5 335.23,513.27" fill="#826246" stroke="#3d3d3d" stroke-width="0.9" stroke-linejoin="round"/>
<line x1="313.25" y1="503.22" x2="351.92" y2="503.22" stroke="#3d3d3d" stroke-width="0.9" stroke-dasharray="2.2,2.2"/>
<line x1="313.25" y1="503.22" x2="351.92" y2="503.22" stroke="#3d3d3d" stroke-width="0.9" stroke-dasharray="4.4,4.4"/>
<line x1="313.25" y1="503.22" x2="351.92" y2="503.22" stroke="#3d3d3d" stroke-width="0.9" stroke-dasharray="2.2,2.2"/>
<polygon points="379.89,525.03 379.22,524.06 378.37,523.09 377.34,522.12 376.15,521.14 374.87,520.17 373.57,519.2 372.36,518.23 371.35,517.25 370.64,516.28 370.29,515.31 370.36,514.33 370.83,513.36 371.66,512.39 372.75,511.42 374,510.44 375.3,509.47 376.56,508.5 377.7,507.53 378.67,506.55 379.46,505.58 380.08,504.61 380.53,503.63 380.85,502.66 381.06,501.69 381.2,500.72 381.29,499.74 381.34,498.77 381.37,497.8 381.38,496.83 381.38,495.85 381.38,494.88 381.36,493.91 381.33,492.94 381.27,491.96 381.18,490.99 381.02,490.02 380.78,489.04 380.43,488.07 379.94,487.1 379.28,486.13 378.43,485.15 377.39,484.18 376.19,483.21 374.88,482.24 373.54,481.26 372.27,480.29 371.18,479.32 370.39,478.34 369.97,477.37 369.97,476.4 370.39,475.43 371.18,474.45 372.27,473.48 373.54,472.51 374.88,471.54 376.19,470.56 377.39,469.59 378.43,468.62 379.28,467.65 379.94,466.67 380.43,465.7 380.78,464.73 381.02,463.75 381.18,462.78 381.27,461.81 381.33,460.84 381.36,459.86 381.38,458.89 381.39,457.92 381.4,456.95 381.4,455.97 381.4,455 381.4,454.03 381.39,453.05 381.39,452.08 381.38,451.11 381.37,450.14 381.36,449.16 381.34,448.19 381.32,447.22 381.29,446.25 381.25,445.27 381.22,444.3 381.18,443.33 381.14,442.36 381.11,441.38 381.08,440.41 381.07,439.44 381.06,438.46 381.08,437.49 381.1,436.52 381.13,435.55 381.16,434.57 381.2,433.6 381.24,432.63 381.28,431.66 381.31,430.68 381.33,429.71 381.35,428.74 381.45,428.74 381.47,429.71 381.49,430.68 381.52,431.66 381.56,432.63 381.6,433.6 381.64,434.57 381.67,435.55 381.7,436.52 381.72,437.49 381.74,438.46 381.73,439.44 381.72,440.41 381.69,441.38 381.66,442.36 381.62,443.33 381.58,444.3 381.55,445.27 381.51,446.25 381.48,447.22 381.46,448.19 381.44,449.16 381.43,450.14 381.42,451.11 381.41,452.08 381.41,453.05 381.4,454.03 381.4,455 381.4,455.97 381.4,456.95 381.41,457.92 381.42,458.89 381.44,459.86 381.47,460.84 381.53,461.81 381.62,462.78 381.78,463.75 382.02,464.73 382.37,465.7 382.86,466.67 383.52,467.65 384.37,468.62 385.41,469.59 386.61,470.56 387.92,471.54 389.26,472.51 390.53,473.48 391.62,474.45 392.41,475.43 392.83,476.4 392.83,477.37 392.41,478.34 391.62,479.32 390.53,480.29 389.26,481.26 387.92,482.24 386.61,483.21 385.41,484.18 384.37,485.15 383.52,486.13 382.86,487.1 382.37,488.07 382.02,489.04 381.78,490.02 381.62,490.99 381.53,491.96 381.47,492.94 381.44,493.91 381.42,494.88 381.42,495.85 381.42,496.83 381.43,497.8 381.46,498.77 381.51,499.74 381.6,500.72 381.74,501.69 381.95,502.66 382.27,503.63 382.72,504.61 383.34,505.58 384.13,506.55 385.1,507.53 386.24,508.5 387.5,509.47 388.8,510.44 390.05,511.42 391.14,512.39 391.97,513.36 392.44,514.33 392.51,515.31 392.16,516.28 391.45,517.25 390.44,518.23 389.23,519.2 387.93,520.17 386.65,521.14 385.46,522.12 384.43,523.09 383.58,524.06 382.91,525.03" fill="#d08abb" stroke="#3d3d3d" stroke-width="0.9" stroke-linejoin="round"/>
<line x1="370.41" y1="514.98" x2="392.39" y2="514.98" stroke="#3d3d3d" stroke-width="0.9" stroke-dasharray="2.2,2.2"/>
<line x1="370.08" y1="476.89" x2="392.72" y2="476.89" stroke="#3d3d3d" stroke-width="0.9" stroke-dasharray="4.4,4.4"/>
<line x1="370.08" y1="476.89" x2="392.72" y2="476.89" stroke="#3d3d3d" stroke-width="0.9" stroke-dasharray="2.2,2.2"/>
<polygon points="430.21,572.49 430.21,571.14 430.21,569.79 430.2,568.44 430.2,567.09 430.19,565.74 430.19,564.38 430.18,563.03 430.17,561.68 430.17,560.33 430.16,558.98 430.16,557.62 430.15,556.27 430.14,554.92 430.14,553.57 430.13,552.22 430.11,550.86 430.09,549.51 430.07,548.16 430.03,546.81 429.98,545.46 429.93,544.11 429.87,542.75 429.79,541.4 429.7,540.05 429.61,538.7 429.49,537.35 429.35,535.99 429.2,534.64 429.01,533.29 428.81,531.94 428.58,530.59 428.34,529.23 428.1,527.88 427.86,526.53 427.65,525.18 427.47,523.83 427.33,522.48 427.22,521.12 427.13,519.77 427.07,518.42 427.01,517.07 426.95,515.72 426.89,514.36 426.81,513.01 426.71,511.66 426.61,510.31 426.51,508.96 426.4,507.6 426.31,506.25 426.22,504.9 426.15,503.55 426.08,502.2 426.02,500.85 425.95,499.49 425.86,498.14 425.74,496.79 425.6,495.44 425.44,494.09 425.26,492.73 425.08,491.38 424.91,490.03 424.78,488.68 424.7,487.33 424.67,485.97 424.7,484.62 424.79,483.27 424.93,481.92 425.1,480.57 425.29,479.22 425.48,477.86 425.67,476.51 425.85,475.16 426.04,473.81 426.23,472.46 426.45,471.1 426.7,469.75 426.99,468.4 427.31,467.05 427.64,465.7 427.97,464.34 428.29,462.99 428.58,461.64 428.83,460.29 429.05,458.94 429.23,457.59 429.4,456.23 429.54,454.88 429.66,453.53 429.77,452.18 429.86,450.83 429.94,449.47 430.01,448.12 430.06,446.77 430.11,445.42 430.14,444.07 430.17,442.71 430.19,441.36 430.2,440.01 430.21,438.66 430.22,438.66 430.23,440.01 430.24,441.36 430.26,442.71 430.29,444.07 430.32,445.42 430.37,446.77 430.42,448.12 430.49,449.47 430.57,450.83 430.67,452.18 430.77,453.53 430.9,454.88 431.04,456.23 431.2,457.59 431.38,458.94 431.6,460.29 431.85,461.64 432.14,462.99 432.46,464.34 432.79,465.7 433.12,467.05 433.44,468.4 433.73,469.75 433.98,471.1 434.2,472.46 434.39,473.81 434.58,475.16 434.76,476.51 434.95,477.86 435.14,479.22 435.33,480.57 435.5,481.92 435.64,483.27 435.73,484.62 435.76,485.97 435.73,487.33 435.65,488.68 435.52,490.03 435.35,491.38 435.17,492.73 434.99,494.09 434.83,495.44 434.69,496.79 434.57,498.14 434.48,499.49 434.41,500.85 434.35,502.2 434.28,503.55 434.21,504.9 434.13,506.25 434.03,507.6 433.93,508.96 433.82,510.31 433.72,511.66 433.62,513.01 433.54,514.36 433.48,515.72 433.42,517.07 433.36,518.42 433.3,519.77 433.21,521.12 433.1,522.48 432.96,523.83 432.78,525.18 432.57,526.53 432.33,527.88 432.09,529.23 431.85,530.59 431.62,531.94 431.42,533.29 431.23,534.64 431.08,535.99 430.94,537.35 430.83,538.7 430.73,540.05 430.64,541.4 430.57,542.75 430.5,544.11 430.45,545.46 430.4,546.81 430.36,548.16 430.34,549.51 430.32,550.86 430.3,552.22 430.29,553.57 430.29,554.92 430.28,556.27 430.28,557.62 430.27,558.98 430.26,560.33 430.26,561.68 430.25,563.03 430.25,564.38 430.24,565.74 430.23,567.09 430.23,568.44 430.22,569.79 430.22,571.14 430.22,572.49" fill="#797979" stroke="#3d3d3d" stroke-width="0.9" stroke-linejoin="round"/>
<line x1="426.54" y1="509.47" x2="433.89" y2="509.47" stroke="#3d3d3d" stroke-width="0.9" stroke-dasharray="2.2,2.2"/>
<line x1="425.31" y1="492.12" x2="435.12" y2="492.12" stroke="#3d3d3d" stroke-width="0.9" stroke-dasharray="4.4,4.4"/>
<line x1="425.15" y1="479.98" x2="435.28" y2="479.98" stroke="#3d3d3d" stroke-width="0.9" stroke-dasharray="2.2,2.2"/>
<polygon points="476.97,519.17 476.4,518.54 475.73,517.9 474.95,517.27 474.06,516.64 473.08,516.01 472.01,515.37 470.89,514.74 469.73,514.11 468.57,513.48 467.46,512.84 466.43,512.21 465.52,511.58 464.78,510.94 464.23,510.31 463.9,509.68 463.81,509.05 463.95,508.41 464.33,507.78 464.93,507.15 465.71,506.52 466.65,505.88 467.71,505.25 468.83,504.62 469.99,503.98 471.14,503.35 472.26,502.72 473.31,502.09 474.27,501.45 475.13,500.82 475.89,500.19 476.54,499.55 477.08,498.92 477.53,498.29 477.9,497.66 478.19,497.02 478.41,496.39 478.59,495.76 478.71,495.13 478.81,494.49 478.88,493.86 478.93,493.23 478.96,492.59 478.99,491.96 479,491.33 479.01,490.7 479.02,490.06 479.02,489.43 479.03,488.8 479.03,488.17 479.03,487.53 479.03,486.9 479.03,486.27 479.02,485.63 479.02,485 479.02,484.37 479.01,483.74 479,483.1 478.98,482.47 478.95,481.84 478.92,481.21 478.87,480.57 478.8,479.94 478.72,479.31 478.6,478.67 478.46,478.04 478.27,477.41 478.04,476.78 477.77,476.14 477.44,475.51 477.05,474.88 476.61,474.24 476.13,473.61 475.59,472.98 475.03,472.35 474.44,471.71 473.86,471.08 473.28,470.45 472.75,469.82 472.27,469.18 471.88,468.55 471.57,467.92 471.38,467.28 471.31,466.65 471.35,466.02 471.52,465.39 471.8,464.75 472.18,464.12 472.64,463.49 473.16,462.86 473.73,462.22 474.31,461.59 474.9,460.96 475.47,460.32 476.01,459.69 476.51,459.06 476.96,458.43 477.35,457.79 477.7,457.16 477.99,456.53 480.08,456.53 480.36,457.16 480.71,457.79 481.1,458.43 481.55,459.06 482.05,459.69 482.59,460.32 483.16,460.96 483.75,461.59 484.34,462.22 484.9,462.86 485.42,463.49 485.88,464.12 486.26,464.75 486.54,465.39 486.71,466.02 486.76,466.65 486.68,467.28 486.49,467.92 486.19,468.55 485.79,469.18 485.31,469.82 484.78,470.45 484.21,471.08 483.62,471.71 483.03,472.35 482.47,472.98 481.93,473.61 481.45,474.24 481.01,474.88 480.63,475.51 480.3,476.14 480.02,476.78 479.79,477.41 479.61,478.04 479.46,478.67 479.34,479.31 479.26,479.94 479.19,480.57 479.14,481.21 479.11,481.84 479.08,482.47 479.07,483.1 479.05,483.74 479.05,484.37 479.04,485 479.04,485.63 479.03,486.27 479.03,486.9 479.03,487.53 479.03,488.17 479.04,488.8 479.04,489.43 479.04,490.06 479.05,490.7 479.06,491.33 479.08,491.96 479.1,492.59 479.13,493.23 479.18,493.86 479.25,494.49 479.35,495.13 479.48,495.76 479.65,496.39 479.87,497.02 480.16,497.66 480.53,498.29 480.98,498.92 481.52,499.55 482.17,500.19 482.93,500.82 483.79,501.45 484.75,502.09 485.8,502.72 486.92,503.35 488.07,503.98 489.23,504.62 490.36,505.25 491.41,505.88 492.35,506.52 493.13,507.15 493.73,507.78 494.11,508.41 494.26,509.05 494.16,509.68 493.83,510.31 493.28,510.94 492.54,511.58 491.63,512.21 490.6,512.84 489.49,513.48 488.33,514.11 487.17,514.74 486.05,515.37 484.98,516.01 484,516.64 483.11,517.27 482.33,517.9 481.66,518.54 481.09,519.17" fill="#c7b475" stroke="#3d3d3d" stroke-width="0.9" stroke-linejoin="round"/>
<line x1="463.96" y1="509.12" x2="494.1" y2="509.12" stroke="#3d3d3d" stroke-width="0.9" stroke-dasharray="2.2,2.2"/>
<line x1="463.96" y1="509.12" x2="494.1" y2="509.12" stroke="#3d3d3d" stroke-width="0.9" stroke-dasharray="4.4,4.4"/>
<line x1="471.38" y1="466.58" x2="486.68" y2="466.58" stroke="#3d3d3d" stroke-width="0.9" stroke-dasharray="2.2,2.2"/>
<polygon points="526.78,523.27 526.13,522 525.25,520.73 524.14,519.46 522.87,518.19 521.55,516.92 520.34,515.65 519.39,514.38 518.82,513.12 518.68,511.85 518.96,510.58 519.55,509.31 520.32,508.04 521.12,506.77 521.83,505.5 522.4,504.23 522.79,502.96 523.04,501.69 523.16,500.42 523.19,499.15 523.18,497.88 523.15,496.61 523.13,495.34 523.12,494.07 523.14,492.8 523.19,491.53 523.27,490.26 523.38,488.99 523.51,487.72 523.67,486.45 523.84,485.18 524.03,483.92 524.23,482.65 524.46,481.38 524.7,480.11 524.95,478.84 525.2,477.57 525.44,476.3 525.64,475.03 525.81,473.76 525.92,472.49 526,471.22 526.04,469.95 526.07,468.68 526.09,467.41 526.13,466.14 526.19,464.87 526.26,463.6 526.36,462.33 526.46,461.06 526.56,459.79 526.65,458.52 526.72,457.25 526.78,455.99 526.84,454.72 526.88,453.45 526.93,452.18 526.98,450.91 527.02,449.64 527.07,448.37 527.12,447.1 527.16,445.83 527.21,444.56 527.26,443.29 527.32,442.02 527.38,440.75 527.45,439.48 527.51,438.21 527.58,436.94 527.64,435.67 527.7,434.4 527.74,433.13 527.78,431.86 527.8,430.59 527.81,429.32 527.82,428.05 527.82,426.79 527.81,425.52 527.8,424.25 527.79,422.98 527.78,421.71 527.76,420.44 527.75,419.17 527.74,417.9 527.74,416.63 527.74,415.36 527.74,414.09 527.74,412.82 527.74,411.55 527.74,410.28 527.74,409.01 527.74,407.74 527.75,406.47 527.76,405.2 527.77,403.93 527.79,402.66 527.8,401.39 527.82,400.12 527.83,398.86 527.83,397.59 527.86,397.59 527.87,398.86 527.88,400.12 527.89,401.39 527.9,402.66 527.92,403.93 527.93,405.2 527.94,406.47 527.95,407.74 527.95,409.01 527.96,410.28 527.96,411.55 527.96,412.82 527.96,414.09 527.96,415.36 527.95,416.63 527.95,417.9 527.94,419.17 527.93,420.44 527.92,421.71 527.9,422.98 527.89,424.25 527.88,425.52 527.87,426.79 527.87,428.05 527.88,429.32 527.89,430.59 527.92,431.86 527.95,433.13 527.99,434.4 528.05,435.67 528.11,436.94 528.18,438.21 528.25,439.48 528.31,440.75 528.37,442.02 528.43,443.29 528.48,444.56 528.53,445.83 528.57,447.1 528.62,448.37 528.67,449.64 528.72,450.91 528.76,452.18 528.81,453.45 528.85,454.72 528.91,455.99 528.97,457.25 529.05,458.52 529.14,459.79 529.24,461.06 529.34,462.33 529.43,463.6 529.51,464.87 529.56,466.14 529.6,467.41 529.62,468.68 529.65,469.95 529.69,471.22 529.77,472.49 529.89,473.76 530.05,475.03 530.25,476.3 530.49,477.57 530.74,478.84 530.99,480.11 531.23,481.38 531.46,482.65 531.66,483.92 531.85,485.18 532.02,486.45 532.18,487.72 532.31,488.99 532.42,490.26 532.5,491.53 532.55,492.8 532.57,494.07 532.56,495.34 532.54,496.61 532.51,497.88 532.5,499.15 532.54,500.42 532.66,501.69 532.9,502.96 533.29,504.23 533.86,505.5 534.58,506.77 535.37,508.04 536.14,509.31 536.73,510.58 537.01,511.85 536.88,513.12 536.31,514.38 535.35,515.65 534.14,516.92 532.82,518.19 531.55,519.46 530.44,520.73 529.56,522 528.91,523.27" fill="#8ec1d6" stroke="#3d3d3d" stroke-width="0.9" stroke-linejoin="round"/>
<line x1="518.91" y1="513.17" x2="536.79" y2="513.17" stroke="#3d3d3d" stroke-width="0.9" stroke-dasharray="2.2,2.2"/>
<line x1="523.24" y1="499.56" x2="532.45" y2="499.56" stroke="#3d3d3d" stroke-width="0.9" stroke-dasharray="4.4,4.4"/>
<line x1="524.27" y1="482.55" x2="531.42" y2="482.55" stroke="#3d3d3d" stroke-width="0.9" stroke-dasharray="2.2,2.2"/>
<polygon points="576.44,549.95 576.35,549.09 576.24,548.23 576.11,547.37 575.96,546.51 575.8,545.65 575.63,544.79 575.46,543.93 575.3,543.06 575.17,542.2 575.07,541.34 575.02,540.48 575.01,539.62 575.05,538.76 575.13,537.9 575.25,537.04 575.4,536.18 575.57,535.32 575.74,534.46 575.91,533.6 576.06,532.74 576.2,531.88 576.31,531.01 576.41,530.15 576.48,529.29 576.54,528.43 576.58,527.57 576.6,526.71 576.62,525.85 576.62,524.99 576.61,524.13 576.58,523.27 576.54,522.41 576.46,521.55 576.34,520.69 576.17,519.83 575.92,518.96 575.57,518.1 575.11,517.24 574.52,516.38 573.79,515.52 572.92,514.66 571.93,513.8 570.85,512.94 569.73,512.08 568.64,511.22 567.64,510.36 566.81,509.5 566.22,508.64 565.91,507.78 565.91,506.91 566.22,506.05 566.81,505.19 567.64,504.33 568.64,503.47 569.73,502.61 570.85,501.75 571.93,500.89 572.92,500.03 573.79,499.17 574.52,498.31 575.11,497.45 575.57,496.59 575.91,495.73 576.16,494.86 576.34,494 576.45,493.14 576.52,492.28 576.55,491.42 576.54,490.56 576.51,489.7 576.44,488.84 576.32,487.98 576.14,487.12 575.88,486.26 575.53,485.4 575.06,484.54 574.46,483.67 573.72,482.81 572.86,481.95 571.87,481.09 570.81,480.23 569.73,479.37 568.67,478.51 567.73,477.65 566.96,476.79 566.42,475.93 566.18,475.07 566.23,474.21 566.59,473.35 567.21,472.49 568.05,471.62 569.04,470.76 570.12,469.9 571.2,469.04 572.24,468.18 573.18,467.32 574,466.46 574.69,465.6 575.24,464.74 578.08,464.74 578.63,465.6 579.32,466.46 580.14,467.32 581.08,468.18 582.12,469.04 583.21,469.9 584.28,470.76 585.27,471.62 586.11,472.49 586.74,473.35 587.09,474.21 587.15,475.07 586.9,475.93 586.37,476.79 585.6,477.65 584.65,478.51 583.6,479.37 582.51,480.23 581.45,481.09 580.47,481.95 579.6,482.81 578.87,483.67 578.27,484.54 577.8,485.4 577.44,486.26 577.18,487.12 577,487.98 576.89,488.84 576.81,489.7 576.78,490.56 576.78,491.42 576.81,492.28 576.87,493.14 576.99,494 577.16,494.86 577.41,495.73 577.75,496.59 578.21,497.45 578.81,498.31 579.54,499.17 580.4,500.03 581.39,500.89 582.47,501.75 583.59,502.61 584.68,503.47 585.68,504.33 586.51,505.19 587.1,506.05 587.42,506.91 587.42,507.78 587.1,508.64 586.51,509.5 585.68,510.36 584.68,511.22 583.59,512.08 582.47,512.94 581.39,513.8 580.4,514.66 579.54,515.52 578.81,516.38 578.21,517.24 577.75,518.1 577.41,518.96 577.16,519.83 576.98,520.69 576.86,521.55 576.79,522.41 576.74,523.27 576.71,524.13 576.7,524.99 576.71,525.85 576.72,526.71 576.75,527.57 576.79,528.43 576.84,529.29 576.92,530.15 577.01,531.01 577.13,531.88 577.26,532.74 577.42,533.6 577.58,534.46 577.76,535.32 577.92,536.18 578.07,537.04 578.19,537.9 578.28,538.76 578.32,539.62 578.31,540.48 578.25,541.34 578.15,542.2 578.02,543.06 577.86,543.93 577.69,544.79 577.52,545.65 577.36,546.51 577.21,547.37 577.08,548.23 576.97,549.09 576.89,549.95" fill="#597dbf" stroke="#3d3d3d" stroke-width="0.9" stroke-linejoin="round"/>
<line x1="566.02" y1="507.34" x2="587.31" y2="507.34" stroke="#3d3d3d" stroke-width="0.9" stroke-dasharray="2.2,2.2"/>
<line x1="566.02" y1="507.34" x2="587.31" y2="507.34" stroke="#3d3d3d" stroke-width="0.9" stroke-dasharray="4.4,4.4"/>
<line x1="566.28" y1="474.79" x2="587.04" y2="474.79" stroke="#3d3d3d" stroke-width="0.9" stroke-dasharray="2.2,2.2"/>
<polygon points="623.73,519.57 622.93,518.57 621.91,517.58 620.68,516.59 619.26,515.6 617.74,514.61 616.2,513.62 614.79,512.63 613.64,511.63 612.86,510.64 612.54,509.65 612.71,508.66 613.37,507.67 614.42,506.68 615.75,505.69 617.23,504.7 618.72,503.7 620.09,502.71 621.25,501.72 622.15,500.73 622.75,499.74 623.06,498.75 623.1,497.76 622.91,496.76 622.55,495.77 622.08,494.78 621.57,493.79 621.09,492.8 620.71,491.81 620.47,490.82 620.41,489.83 620.54,488.83 620.85,487.84 621.3,486.85 621.85,485.86 622.42,484.87 622.98,483.88 623.48,482.89 623.87,481.89 624.14,480.9 624.28,479.91 624.3,478.92 624.19,477.93 623.98,476.94 623.71,475.95 623.4,474.96 623.08,473.96 622.8,472.97 622.6,471.98 622.49,470.99 622.49,470 622.6,469.01 622.81,468.02 623.1,467.03 623.44,466.03 623.78,465.04 624.1,464.05 624.39,463.06 624.6,462.07 624.75,461.08 624.83,460.09 624.83,459.09 624.77,458.1 624.66,457.11 624.51,456.12 624.35,455.13 624.19,454.14 624.06,453.15 623.97,452.16 623.93,451.16 623.95,450.17 624.03,449.18 624.15,448.19 624.31,447.2 624.49,446.21 624.67,445.22 624.84,444.22 624.98,443.23 625.1,442.24 625.18,441.25 625.23,440.26 625.25,439.27 625.25,438.28 625.23,437.29 625.2,436.29 625.16,435.3 625.13,434.31 625.1,433.32 625.08,432.33 625.07,431.34 625.08,430.35 625.11,429.35 625.14,428.36 625.19,427.37 625.24,426.38 625.28,425.39 625.33,424.4 625.37,423.41 625.4,422.42 625.42,421.42 625.53,421.42 625.56,422.42 625.59,423.41 625.63,424.4 625.67,425.39 625.72,426.38 625.77,427.37 625.81,428.36 625.85,429.35 625.87,430.35 625.88,431.34 625.88,432.33 625.86,433.32 625.83,434.31 625.79,435.3 625.75,436.29 625.72,437.29 625.7,438.28 625.7,439.27 625.72,440.26 625.77,441.25 625.86,442.24 625.97,443.23 626.12,444.22 626.29,445.22 626.47,446.21 626.64,447.2 626.8,448.19 626.93,449.18 627,450.17 627.02,451.16 626.98,452.16 626.89,453.15 626.76,454.14 626.61,455.13 626.44,456.12 626.3,457.11 626.19,458.1 626.13,459.09 626.13,460.09 626.2,461.08 626.35,462.07 626.57,463.06 626.85,464.05 627.17,465.04 627.52,466.03 627.85,467.03 628.14,468.02 628.35,469.01 628.47,470 628.47,470.99 628.36,471.98 628.15,472.97 627.87,473.96 627.56,474.96 627.24,475.95 626.97,476.94 626.76,477.93 626.66,478.92 626.67,479.91 626.81,480.9 627.08,481.89 627.48,482.89 627.97,483.88 628.53,484.87 629.11,485.86 629.65,486.85 630.1,487.84 630.41,488.83 630.54,489.83 630.49,490.82 630.25,491.81 629.86,492.8 629.38,493.79 628.87,494.78 628.4,495.77 628.04,496.76 627.86,497.76 627.9,498.75 628.21,499.74 628.81,500.73 629.7,501.72 630.87,502.71 632.24,503.7 633.72,504.7 635.2,505.69 636.54,506.68 637.59,507.67 638.24,508.66 638.42,509.65 638.1,510.64 637.32,511.63 636.16,512.63 634.75,513.62 633.22,514.61 631.69,515.6 630.28,516.59 629.04,517.58 628.03,518.57 627.23,519.57" fill="#d98b5f" stroke="#3d3d3d" stroke-width="0.9" stroke-linejoin="round"/>
<line x1="612.67" y1="509.51" x2="638.29" y2="509.51" stroke="#3d3d3d" stroke-width="0.9" stroke-dasharray="2.2,2.2"/>
<line x1="612.67" y1="509.51" x2="638.29" y2="509.51" stroke="#3d3d3d" stroke-width="0.9" stroke-dasharray="4.4,4.4"/>
<line x1="620.46" y1="490" x2="630.49" y2="490" stroke="#3d3d3d" stroke-width="0.9" stroke-dasharray="2.2,2.2"/>
<polygon points="674.27,580.15 674.26,578.96 674.24,577.78 674.22,576.59 674.2,575.41 674.18,574.22 674.16,573.04 674.14,571.85 674.14,570.67 674.14,569.48 674.15,568.3 674.16,567.11 674.18,565.93 674.2,564.74 674.23,563.56 674.24,562.38 674.26,561.19 674.27,560.01 674.28,558.82 674.28,557.64 674.29,556.45 674.29,555.27 674.28,554.08 674.28,552.9 674.26,551.71 674.24,550.53 674.19,549.34 674.13,548.16 674.03,546.97 673.9,545.79 673.73,544.6 673.54,543.42 673.34,542.23 673.14,541.05 672.99,539.86 672.89,538.68 672.86,537.49 672.91,536.31 673.04,535.12 673.21,533.94 673.41,532.75 673.61,531.57 673.79,530.38 673.95,529.2 674.07,528.01 674.15,526.83 674.21,525.64 674.24,524.46 674.25,523.27 674.23,522.09 674.19,520.9 674.09,519.72 673.91,518.53 673.6,517.35 673.12,516.16 672.39,514.98 671.37,513.79 670.07,512.61 668.5,511.42 666.78,510.24 665.08,509.05 663.61,507.87 662.57,506.68 662.12,505.5 662.34,504.31 663.19,503.13 664.54,501.94 666.19,500.76 667.92,499.57 669.55,498.39 670.96,497.2 672.07,496.02 672.89,494.83 673.46,493.65 673.82,492.46 674.03,491.28 674.14,490.09 674.17,488.91 674.15,487.72 674.05,486.54 673.86,485.35 673.55,484.17 673.07,482.98 672.38,481.8 671.47,480.61 670.35,479.43 669.08,478.25 667.78,477.06 666.59,475.88 665.68,474.69 665.18,473.51 665.17,472.32 665.66,471.14 666.56,469.95 667.74,468.77 669.04,467.58 670.31,466.4 671.44,465.21 672.36,464.03 673.05,462.84 675.53,462.84 676.23,464.03 677.15,465.21 678.27,466.4 679.54,467.58 680.84,468.77 682.03,469.95 682.93,471.14 683.41,472.32 683.41,473.51 682.91,474.69 681.99,475.88 680.8,477.06 679.5,478.25 678.23,479.43 677.11,480.61 676.2,481.8 675.52,482.98 675.04,484.17 674.72,485.35 674.53,486.54 674.44,487.72 674.41,488.91 674.44,490.09 674.55,491.28 674.77,492.46 675.13,493.65 675.69,494.83 676.51,496.02 677.63,497.2 679.03,498.39 680.67,499.57 682.4,500.76 684.05,501.94 685.39,503.13 686.24,504.31 686.46,505.5 686.02,506.68 684.98,507.87 683.5,509.05 681.8,510.24 680.09,511.42 678.52,512.61 677.21,513.79 676.2,514.98 675.47,516.16 674.98,517.35 674.67,518.53 674.49,519.72 674.4,520.9 674.35,522.09 674.34,523.27 674.35,524.46 674.38,525.64 674.43,526.83 674.52,528.01 674.64,529.2 674.79,530.38 674.97,531.57 675.18,532.75 675.38,533.94 675.55,535.12 675.67,536.31 675.72,537.49 675.7,538.68 675.6,539.86 675.44,541.05 675.25,542.23 675.04,543.42 674.85,544.6 674.68,545.79 674.55,546.97 674.46,548.16 674.39,549.34 674.35,550.53 674.32,551.71 674.31,552.9 674.3,554.08 674.3,555.27 674.3,556.45 674.3,557.64 674.31,558.82 674.31,560.01 674.32,561.19 674.34,562.38 674.36,563.56 674.38,564.74 674.4,565.93 674.42,567.11 674.44,568.3 674.45,569.48 674.45,570.67 674.44,571.85 674.42,573.04 674.4,574.22 674.38,575.41 674.36,576.59 674.34,577.78 674.33,578.96 674.31,580.15" fill="#75bf71" stroke="#3d3d3d" stroke-width="0.9" stroke-linejoin="round"/>
<line x1="662.24" y1="505.29" x2="686.34" y2="505.29" stroke="#3d3d3d" stroke-width="0.9" stroke-dasharray="2.2,2.2"/>
<line x1="662.24" y1="505.29" x2="686.34" y2="505.29" stroke="#3d3d3d" stroke-width="0.9" stroke-dasharray="4.4,4.4"/>
<line x1="665.26" y1="472.89" x2="683.32" y2="472.89" stroke="#3d3d3d" stroke-width="0.9" stroke-dasharray="2.2,2.2"/>
<rect x="64.1" y="349.2" width="634.6" height="242" fill="none" stroke="#4d4d4d" stroke-width="0.9"/>
<line x1="61.8" y1="575.2" x2="64.1" y2="575.2" stroke="#000" stroke-width="0.5"/>
<text transform="translate(59,579.5) scale(1.18,1) rotate(0.05)" font-size="9.75" text-anchor="end" fill="#000" stroke="#000" stroke-width="0.2">−4</text>
<line x1="61.8" y1="535" x2="64.1" y2="535" stroke="#000" stroke-width="0.5"/>
<text transform="translate(59,539.3) scale(1.18,1) rotate(0.05)" font-size="9.75" text-anchor="end" fill="#000" stroke="#000" stroke-width="0.2">−2</text>
<line x1="61.8" y1="494.8" x2="64.1" y2="494.8" stroke="#000" stroke-width="0.5"/>
<text transform="translate(59,499.1) scale(1.18,1) rotate(0.05)" font-size="9.75" text-anchor="end" fill="#000" stroke="#000" stroke-width="0.2">0</text>
<line x1="61.8" y1="454.6" x2="64.1" y2="454.6" stroke="#000" stroke-width="0.5"/>
<text transform="translate(59,458.9) scale(1.18,1) rotate(0.05)" font-size="9.75" text-anchor="end" fill="#000" stroke="#000" stroke-width="0.2">2</text>
<line x1="61.8" y1="414.4" x2="64.1" y2="414.4" stroke="#000" stroke-width="0.5"/>
<text transform="translate(59,418.7) scale(1.18,1) rotate(0.05)" font-size="9.75" text-anchor="end" fill="#000" stroke="#000" stroke-width="0.2">4</text>
<line x1="61.8" y1="374.2" x2="64.1" y2="374.2" stroke="#000" stroke-width="0.5"/>
<text transform="translate(59,378.5) scale(1.18,1) rotate(0.05)" font-size="9.75" text-anchor="end" fill="#000" stroke="#000" stroke-width="0.2">6</text>
<line x1="88.51" y1="591.2" x2="88.51" y2="593.2" stroke="#000" stroke-width="0.6"/>
<line x1="137.32" y1="591.2" x2="137.32" y2="593.2" stroke="#000" stroke-width="0.6"/>
<line x1="186.14" y1="591.2" x2="186.14" y2="593.2" stroke="#000" stroke-width="0.6"/>
<line x1="234.95" y1="591.2" x2="234.95" y2="593.2" stroke="#000" stroke-width="0.6"/>
<line x1="283.77" y1="591.2" x2="283.77" y2="593.2" stroke="#000" stroke-width="0.6"/>
<line x1="332.58" y1="591.2" x2="332.58" y2="593.2" stroke="#000" stroke-width="0.6"/>
<line x1="381.4" y1="591.2" x2="381.4" y2="593.2" stroke="#000" stroke-width="0.6"/>
<line x1="430.22" y1="591.2" x2="430.22" y2="593.2" stroke="#000" stroke-width="0.6"/>
<line x1="479.03" y1="591.2" x2="479.03" y2="593.2" stroke="#000" stroke-width="0.6"/>
<line x1="527.85" y1="591.2" x2="527.85" y2="593.2" stroke="#000" stroke-width="0.6"/>
<line x1="576.66" y1="591.2" x2="576.66" y2="593.2" stroke="#000" stroke-width="0.6"/>
<line x1="625.48" y1="591.2" x2="625.48" y2="593.2" stroke="#000" stroke-width="0.6"/>
<line x1="674.29" y1="591.2" x2="674.29" y2="593.2" stroke="#000" stroke-width="0.6"/>
<text transform="translate(37.3,470.35) scale(1.18,1) rotate(-89.95)" font-size="11.1" text-anchor="middle" fill="#000" stroke="#000" stroke-width="0.2">Scaled Values</text>
<text transform="translate(381.4,642.1) scale(1.18,1) rotate(0.05)" font-size="11.1" text-anchor="middle" fill="#000" stroke="#000" stroke-width="0.2">Features</text>
<text transform="translate(0.4,663.6) scale(1.18,1) rotate(0.05)" font-size="10.34" text-anchor="start" fill="#000" font-weight="bold" stroke="#000" stroke-width="0.2">c</text>
<text transform="translate(381.35,671.9) scale(1.18,1) rotate(0.05)" font-size="12.24" text-anchor="middle" fill="#000" stroke="#000" stroke-width="0.2">Distribution of Target Variable</text>
<rect x="189.23" y="699.09" width="63.55" height="218.31" fill="#7aaedf"/>
<rect x="510.18" y="687.27" width="63.55" height="230.12" fill="#7aaedf"/>
<polyline points="100.65,914.87 103.47,914.31 106.29,913.63 109.12,912.83 111.94,911.87 114.76,910.75 117.58,909.42 120.41,907.88 123.23,906.09 126.05,904.03 128.87,901.66 131.7,898.96 134.52,895.91 137.34,892.47 140.16,888.61 142.99,884.33 145.81,879.58 148.63,874.37 151.45,868.69 154.28,862.52 157.1,855.87 159.92,848.75 162.74,841.19 165.56,833.21 168.39,824.86 171.21,816.17 174.03,807.22 176.85,798.06 179.68,788.78 182.5,779.46 185.32,770.2 188.14,761.09 190.97,752.23 193.79,743.73 196.61,735.7 199.43,728.23 202.26,721.43 205.08,715.38 207.9,710.18 210.72,705.89 213.54,702.57 216.37,700.29 219.19,699.06 222.01,698.9 224.83,699.83 227.66,701.82 230.48,704.85 233.3,708.87 236.12,713.82 238.95,719.63 241.77,726.23 244.59,733.52 247.41,741.41 250.24,749.78 253.06,758.55 255.88,767.6 258.7,776.83 261.52,786.14 264.35,795.44 267.17,804.64 269.99,813.66 272.81,822.43 275.64,830.88 278.46,838.97 281.28,846.66 284.1,853.9 286.93,860.68 289.75,866.99 292.57,872.81 295.39,878.16 298.22,883.03 301.04,887.44 303.86,891.42 306.68,894.97 309.5,898.14 312.33,900.93 315.15,903.39 317.97,905.54 320.79,907.4 323.62,909.01 326.44,910.39 329.26,911.57 332.08,912.57 334.91,913.42 337.73,914.13 340.55,914.72 343.37,915.22 346.2,915.62 349.02,915.95 351.84,916.23 354.66,916.45 357.48,916.62 360.31,916.77 363.13,916.88 365.95,916.97 368.77,917.03 371.6,917.08 374.42,917.12 377.24,917.14 380.06,917.15 382.89,917.15 385.71,917.14 388.53,917.11 391.35,917.07 394.18,917.02 397,916.95 399.82,916.86 402.64,916.74 405.47,916.59 408.29,916.4 411.11,916.17 413.93,915.88 416.75,915.53 419.58,915.1 422.4,914.58 425.22,913.96 428.04,913.21 430.87,912.32 433.69,911.26 436.51,910.02 439.33,908.56 442.16,906.86 444.98,904.9 447.8,902.64 450.62,900.05 453.45,897.1 456.27,893.77 459.09,890.02 461.91,885.83 464.73,881.18 467.56,876.04 470.38,870.41 473.2,864.27 476.02,857.62 478.85,850.47 481.67,842.83 484.49,834.73 487.31,826.21 490.14,817.29 492.96,808.05 495.78,798.54 498.6,788.85 501.43,779.04 504.25,769.23 507.07,759.5 509.89,749.96 512.71,740.72 515.54,731.89 518.36,723.58 521.18,715.89 524,708.94 526.83,702.81 529.65,697.59 532.47,693.35 535.29,690.16 538.12,688.06 540.94,687.09 543.76,687.25 546.58,688.54 549.41,690.95 552.23,694.45 555.05,698.97 557.87,704.46 560.69,710.83 563.52,718 566.34,725.87 569.16,734.34 571.98,743.3 574.81,752.63 577.63,762.24 580.45,772 583.27,781.82 586.1,791.61 588.92,801.26 591.74,810.7 594.56,819.85 597.39,828.66 600.21,837.07 603.03,845.04 605.85,852.54 608.67,859.55 611.5,866.06 614.32,872.05 617.14,877.54 619.96,882.54 622.79,887.06 625.61,891.12 628.43,894.75 631.25,897.97 634.08,900.81 636.9,903.31 639.72,905.48 642.54,907.37 645.37,909 648.19,910.39 651.01,911.58 653.83,912.59 656.66,913.44 659.48,914.15 662.3,914.74" fill="none" stroke="#4a7eae" stroke-width="1.1"/>
<rect x="64" y="675.6" width="634.7" height="241.7" fill="none" stroke="#4d4d4d" stroke-width="0.9"/>
<line x1="61.7" y1="917.4" x2="64" y2="917.4" stroke="#000" stroke-width="0.5"/>
<text transform="translate(58.9,921.7) scale(1.18,1) rotate(0.05)" font-size="9.75" text-anchor="end" fill="#000" stroke="#000" stroke-width="0.2">0</text>
<line x1="61.7" y1="873.65" x2="64" y2="873.65" stroke="#000" stroke-width="0.5"/>
<text transform="translate(58.9,877.95) scale(1.18,1) rotate(0.05)" font-size="9.75" text-anchor="end" fill="#000" stroke="#000" stroke-width="0.2">100</text>
<line x1="61.7" y1="829.9" x2="64" y2="829.9" stroke="#000" stroke-width="0.5"/>
<text transform="translate(58.9,834.2) scale(1.18,1) rotate(0.05)" font-size="9.75" text-anchor="end" fill="#000" stroke="#000" stroke-width="0.2">200</text>
<line x1="61.7" y1="786.15" x2="64" y2="786.15" stroke="#000" stroke-width="0.5"/>
<text transform="translate(58.9,790.45) scale(1.18,1) rotate(0.05)" font-size="9.75" text-anchor="end" fill="#000" stroke="#000" stroke-width="0.2">300</text>
<line x1="61.7" y1="742.4" x2="64" y2="742.4" stroke="#000" stroke-width="0.5"/>
<text transform="translate(58.9,746.7) scale(1.18,1) rotate(0.05)" font-size="9.75" text-anchor="end" fill="#000" stroke="#000" stroke-width="0.2">400</text>
<line x1="61.7" y1="698.65" x2="64" y2="698.65" stroke="#000" stroke-width="0.5"/>
<text transform="translate(58.9,702.95) scale(1.18,1) rotate(0.05)" font-size="9.75" text-anchor="end" fill="#000" stroke="#000" stroke-width="0.2">500</text>
<line x1="698.7" y1="917.3" x2="701" y2="917.3" stroke="#000" stroke-width="0.5"/>
<text transform="translate(703.3,921.6) scale(1.18,1) rotate(0.05)" font-size="9.75" text-anchor="start" fill="#000" stroke="#000" stroke-width="0.2">0.0</text>
<line x1="698.7" y1="889.18" x2="701" y2="889.18" stroke="#000" stroke-width="0.5"/>
<text transform="translate(703.3,893.48) scale(1.18,1) rotate(0.05)" font-size="9.75" text-anchor="start" fill="#000" stroke="#000" stroke-width="0.2">0.2</text>
<line x1="698.7" y1="861.06" x2="701" y2="861.06" stroke="#000" stroke-width="0.5"/>
<text transform="translate(703.3,865.36) scale(1.18,1) rotate(0.05)" font-size="9.75" text-anchor="start" fill="#000" stroke="#000" stroke-width="0.2">0.4</text>
<line x1="698.7" y1="832.94" x2="701" y2="832.94" stroke="#000" stroke-width="0.5"/>
<text transform="translate(703.3,837.24) scale(1.18,1) rotate(0.05)" font-size="9.75" text-anchor="start" fill="#000" stroke="#000" stroke-width="0.2">0.6</text>
<line x1="698.7" y1="804.82" x2="701" y2="804.82" stroke="#000" stroke-width="0.5"/>
<text transform="translate(703.3,809.12) scale(1.18,1) rotate(0.05)" font-size="9.75" text-anchor="start" fill="#000" stroke="#000" stroke-width="0.2">0.8</text>
<line x1="698.7" y1="776.7" x2="701" y2="776.7" stroke="#000" stroke-width="0.5"/>
<text transform="translate(703.3,781) scale(1.18,1) rotate(0.05)" font-size="9.75" text-anchor="start" fill="#000" stroke="#000" stroke-width="0.2">1.0</text>
<line x1="698.7" y1="748.58" x2="701" y2="748.58" stroke="#000" stroke-width="0.5"/>
<text transform="translate(703.3,752.88) scale(1.18,1) rotate(0.05)" font-size="9.75" text-anchor="start" fill="#000" stroke="#000" stroke-width="0.2">1.2</text>
<line x1="698.7" y1="720.46" x2="701" y2="720.46" stroke="#000" stroke-width="0.5"/>
<text transform="translate(703.3,724.76) scale(1.18,1) rotate(0.05)" font-size="9.75" text-anchor="start" fill="#000" stroke="#000" stroke-width="0.2">1.4</text>
<line x1="698.7" y1="692.34" x2="701" y2="692.34" stroke="#000" stroke-width="0.5"/>
<text transform="translate(703.3,696.64) scale(1.18,1) rotate(0.05)" font-size="9.75" text-anchor="start" fill="#000" stroke="#000" stroke-width="0.2">1.6</text>
<line x1="221" y1="917.3" x2="221" y2="919.3" stroke="#000" stroke-width="0.6"/>
<text transform="translate(221,928.9) scale(1.18,1) rotate(0.05)" font-size="9.75" text-anchor="middle" fill="#000" stroke="#000" stroke-width="0.2">0</text>
<line x1="541.95" y1="917.3" x2="541.95" y2="919.3" stroke="#000" stroke-width="0.6"/>
<text transform="translate(541.95,928.9) scale(1.18,1) rotate(0.05)" font-size="9.75" text-anchor="middle" fill="#000" stroke="#000" stroke-width="0.2">1</text>
<text transform="translate(381,941.9) scale(1.18,1) rotate(0.05)" font-size="11.1" text-anchor="middle" fill="#000" stroke="#000" stroke-width="0.2">Target</text>
<text transform="translate(32.3,797) scale(1.18,1) rotate(-89.95)" font-size="11.27" text-anchor="middle" fill="#000" stroke="#000" stroke-width="0.2">Count</text>
<text transform="translate(734.2,797) scale(1.18,1) rotate(-89.95)" font-size="11.02" text-anchor="middle" fill="#000" stroke="#000" stroke-width="0.2">Density</text>
<text transform="translate(88.51,605.86) scale(1.18,1) rotate(-44.95)" font-size="9.75" text-anchor="middle" fill="#000" y="2.55">age</text>
<text transform="translate(137.32,605.34) scale(1.18,1) rotate(-44.95)" font-size="9.75" text-anchor="middle" fill="#000" y="2.55">sex</text>
<text transform="translate(186.14,603.53) scale(1.18,1) rotate(-44.95)" font-size="9.75" text-anchor="middle" fill="#000" y="2.55">cp</text>
<text transform="translate(234.95,613.57) scale(1.18,1) rotate(-44.95)" font-size="9.75" text-anchor="middle" fill="#000" y="2.55">trestbps</text>
<text transform="translate(283.77,606.59) scale(1.18,1) rotate(-44.95)" font-size="9.75" text-anchor="middle" fill="#000" y="2.55">chol</text>
<text transform="translate(332.58,604.64) scale(1.18,1) rotate(-44.95)" font-size="9.75" text-anchor="middle" fill="#000" y="2.55">fbs</text>
<text transform="translate(381.4,612.25) scale(1.18,1) rotate(-44.95)" font-size="9.75" text-anchor="middle" fill="#000" y="2.55">restecg</text>
<text transform="translate(430.22,612.24) scale(1.18,1) rotate(-44.95)" font-size="9.75" text-anchor="middle" fill="#000" y="2.55">thalach</text>
<text transform="translate(479.03,610.03) scale(1.18,1) rotate(-44.95)" font-size="9.75" text-anchor="middle" fill="#000" y="2.55">exang</text>
<text transform="translate(527.85,613.11) scale(1.18,1) rotate(-44.95)" font-size="9.75" text-anchor="middle" fill="#000" y="2.55">oldpeak</text>
<text transform="translate(576.66,608.61) scale(1.18,1) rotate(-44.95)" font-size="9.75" text-anchor="middle" fill="#000" y="2.55">slope</text>
<text transform="translate(625.48,603.45) scale(1.18,1) rotate(-44.95)" font-size="9.75" text-anchor="middle" fill="#000" y="2.55">ca</text>
<text transform="translate(674.29,606.05) scale(1.18,1) rotate(-44.95)" font-size="9.75" text-anchor="middle" fill="#000" y="2.55">thal</text>
</svg>
</body></html>
